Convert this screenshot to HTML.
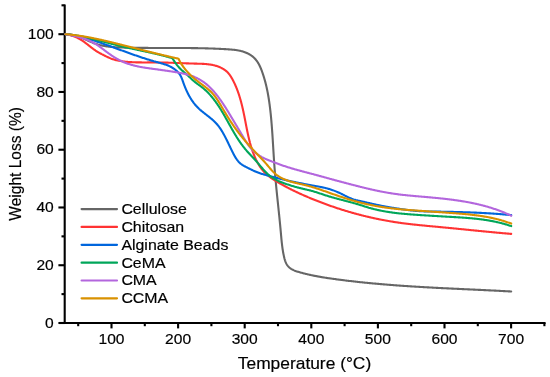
<!DOCTYPE html>
<html><head><meta charset="utf-8"><style>
html,body{margin:0;padding:0;background:#fff;}
body{width:550px;height:377px;overflow:hidden;}
svg{display:block;}
text{font-family:"Liberation Sans",Arial,sans-serif;fill:#000;stroke:#000;stroke-width:0.18;}
</style></head><body>
<svg width="550" height="377" viewBox="0 0 550 377">
<rect width="550" height="377" fill="#fff"/>
<g stroke="#000" stroke-width="2.1">
<line x1="64.70" y1="4.4" x2="64.70" y2="324.05"/>
<line x1="63.65" y1="323.00" x2="545.6" y2="323.00"/>
<line x1="58.40" y1="323.00" x2="64.70" y2="323.00"/>
<line x1="61.50" y1="294.12" x2="64.70" y2="294.12"/>
<line x1="58.40" y1="265.24" x2="64.70" y2="265.24"/>
<line x1="61.50" y1="236.36" x2="64.70" y2="236.36"/>
<line x1="58.40" y1="207.48" x2="64.70" y2="207.48"/>
<line x1="61.50" y1="178.60" x2="64.70" y2="178.60"/>
<line x1="58.40" y1="149.72" x2="64.70" y2="149.72"/>
<line x1="61.50" y1="120.84" x2="64.70" y2="120.84"/>
<line x1="58.40" y1="91.96" x2="64.70" y2="91.96"/>
<line x1="61.50" y1="63.08" x2="64.70" y2="63.08"/>
<line x1="58.40" y1="34.20" x2="64.70" y2="34.20"/>
<line x1="61.50" y1="5.32" x2="64.70" y2="5.32"/>
<line x1="78.20" y1="323.00" x2="78.20" y2="326.20"/>
<line x1="111.50" y1="323.00" x2="111.50" y2="328.40"/>
<line x1="144.80" y1="323.00" x2="144.80" y2="326.20"/>
<line x1="178.10" y1="323.00" x2="178.10" y2="328.40"/>
<line x1="211.40" y1="323.00" x2="211.40" y2="326.20"/>
<line x1="244.70" y1="323.00" x2="244.70" y2="328.40"/>
<line x1="278.00" y1="323.00" x2="278.00" y2="326.20"/>
<line x1="311.30" y1="323.00" x2="311.30" y2="328.40"/>
<line x1="344.60" y1="323.00" x2="344.60" y2="326.20"/>
<line x1="377.90" y1="323.00" x2="377.90" y2="328.40"/>
<line x1="411.20" y1="323.00" x2="411.20" y2="326.20"/>
<line x1="444.50" y1="323.00" x2="444.50" y2="328.40"/>
<line x1="477.80" y1="323.00" x2="477.80" y2="326.20"/>
<line x1="511.10" y1="323.00" x2="511.10" y2="328.40"/>
<line x1="544.40" y1="323.00" x2="544.40" y2="326.20"/>
</g>
<g fill="none" stroke-width="2.1" stroke-linejoin="round" stroke-linecap="round">
<path d="M65.40 34.20 L66.12 34.19 L66.83 34.19 L67.54 34.21 L68.24 34.25 L68.94 34.31 L69.64 34.38 L70.33 34.47 L71.02 34.58 L71.70 34.70 L72.39 34.83 L73.06 34.98 L73.74 35.14 L74.41 35.31 L75.08 35.49 L75.74 35.68 L76.41 35.89 L77.07 36.10 L77.73 36.33 L78.38 36.56 L79.04 36.80 L79.69 37.05 L80.34 37.31 L80.99 37.57 L81.64 37.83 L82.29 38.11 L82.93 38.38 L83.58 38.66 L84.22 38.95 L84.87 39.24 L85.51 39.52 L86.16 39.81 L86.80 40.11 L87.44 40.40 L88.09 40.69 L88.73 40.97 L89.38 41.26 L90.02 41.54 L90.67 41.82 L91.32 42.10 L91.96 42.37 L92.61 42.64 L93.27 42.90 L93.92 43.15 L94.57 43.40 L95.23 43.63 L95.89 43.86 L96.55 44.08 L97.21 44.29 L97.88 44.49 L98.55 44.68 L99.22 44.86 L99.89 45.04 L100.56 45.20 L101.24 45.36 L101.91 45.51 L102.59 45.66 L103.27 45.79 L103.95 45.92 L104.64 46.04 L105.32 46.16 L106.01 46.27 L106.69 46.37 L107.38 46.47 L108.07 46.56 L108.76 46.65 L109.46 46.73 L110.15 46.80 L110.84 46.87 L111.54 46.94 L112.24 47.00 L112.93 47.06 L113.63 47.11 L114.33 47.16 L115.03 47.21 L115.73 47.25 L116.43 47.29 L117.13 47.32 L117.83 47.36 L118.53 47.39 L119.23 47.42 L119.94 47.45 L120.64 47.47 L121.34 47.49 L122.04 47.52 L122.75 47.54 L123.45 47.56 L124.15 47.58 L124.85 47.60 L125.55 47.61 L126.26 47.63 L126.96 47.65 L127.66 47.66 L128.36 47.68 L129.06 47.69 L129.76 47.71 L130.47 47.72 L131.17 47.74 L131.87 47.75 L132.57 47.76 L133.27 47.77 L133.97 47.78 L134.67 47.79 L135.37 47.80 L136.07 47.81 L136.77 47.82 L137.47 47.83 L138.17 47.84 L138.87 47.85 L139.57 47.86 L140.27 47.86 L140.97 47.87 L141.67 47.88 L142.37 47.88 L143.07 47.89 L143.77 47.90 L144.47 47.90 L145.17 47.91 L145.87 47.91 L146.57 47.92 L147.27 47.92 L147.97 47.92 L148.66 47.93 L149.36 47.93 L150.06 47.93 L150.76 47.94 L151.46 47.94 L152.16 47.94 L152.86 47.94 L153.55 47.95 L154.25 47.95 L154.95 47.95 L155.65 47.95 L156.35 47.95 L157.05 47.95 L157.74 47.95 L158.44 47.96 L159.14 47.96 L159.84 47.96 L160.54 47.96 L161.24 47.96 L161.93 47.96 L162.63 47.96 L163.33 47.96 L164.03 47.96 L164.73 47.96 L165.42 47.96 L166.12 47.96 L166.82 47.96 L167.52 47.96 L168.21 47.96 L168.91 47.96 L169.61 47.97 L170.31 47.97 L171.01 47.97 L171.70 47.97 L172.40 47.97 L173.10 47.97 L173.80 47.97 L174.49 47.97 L175.19 47.97 L175.89 47.98 L176.59 47.98 L177.29 47.98 L177.98 47.98 L178.68 47.98 L179.38 47.99 L180.08 47.99 L180.78 47.99 L181.47 48.00 L182.17 48.00 L182.87 48.00 L183.57 48.01 L184.27 48.01 L184.96 48.02 L185.66 48.02 L186.36 48.03 L187.06 48.03 L187.76 48.04 L188.46 48.05 L189.15 48.05 L189.85 48.06 L190.55 48.07 L191.25 48.08 L191.95 48.08 L192.65 48.09 L193.35 48.10 L194.04 48.11 L194.74 48.12 L195.44 48.13 L196.14 48.14 L196.84 48.15 L197.54 48.17 L198.24 48.18 L198.94 48.19 L199.64 48.20 L200.34 48.22 L201.04 48.23 L201.73 48.25 L202.43 48.26 L203.13 48.28 L203.83 48.30 L204.53 48.31 L205.23 48.33 L205.93 48.35 L206.63 48.37 L207.33 48.39 L208.03 48.41 L208.74 48.43 L209.44 48.45 L210.14 48.48 L210.84 48.50 L211.54 48.52 L212.24 48.55 L212.94 48.57 L213.64 48.60 L214.34 48.63 L215.04 48.65 L215.75 48.68 L216.45 48.71 L217.15 48.74 L217.85 48.77 L218.55 48.80 L219.26 48.84 L219.96 48.87 L220.66 48.90 L221.36 48.94 L222.07 48.97 L222.77 49.01 L223.47 49.05 L224.18 49.09 L224.88 49.13 L225.58 49.17 L226.29 49.21 L226.99 49.25 L227.69 49.29 L228.40 49.34 L229.10 49.39 L229.80 49.43 L230.51 49.49 L231.21 49.54 L231.91 49.60 L232.61 49.67 L233.31 49.74 L234.00 49.81 L234.70 49.89 L235.39 49.98 L236.09 50.08 L236.78 50.18 L237.46 50.29 L238.15 50.41 L238.83 50.54 L239.51 50.68 L240.19 50.82 L240.86 50.98 L241.53 51.15 L242.20 51.33 L242.86 51.53 L243.52 51.73 L244.17 51.95 L244.82 52.19 L245.47 52.43 L246.11 52.70 L246.75 52.97 L247.38 53.27 L248.01 53.57 L248.63 53.90 L249.24 54.24 L249.84 54.59 L250.44 54.97 L251.02 55.35 L251.60 55.75 L252.16 56.17 L252.71 56.60 L253.24 57.05 L253.76 57.51 L254.27 57.99 L254.75 58.48 L255.22 58.99 L255.68 59.50 L256.11 60.04 L256.54 60.58 L256.94 61.14 L257.34 61.70 L257.71 62.28 L258.08 62.87 L258.43 63.46 L258.78 64.07 L259.11 64.68 L259.43 65.30 L259.73 65.93 L260.03 66.57 L260.32 67.21 L260.60 67.86 L260.88 68.51 L261.14 69.16 L261.40 69.82 L261.65 70.48 L261.90 71.15 L262.14 71.81 L262.38 72.48 L262.61 73.15 L262.84 73.82 L263.06 74.49 L263.28 75.16 L263.49 75.83 L263.71 76.50 L263.91 77.17 L264.12 77.85 L264.32 78.52 L264.51 79.19 L264.70 79.87 L264.89 80.54 L265.08 81.22 L265.26 81.89 L265.44 82.57 L265.61 83.25 L265.78 83.93 L265.95 84.60 L266.11 85.28 L266.28 85.96 L266.43 86.64 L266.59 87.32 L266.74 88.00 L266.89 88.68 L267.03 89.37 L267.18 90.05 L267.32 90.73 L267.45 91.42 L267.59 92.10 L267.72 92.78 L267.85 93.47 L267.97 94.15 L268.10 94.84 L268.22 95.53 L268.34 96.21 L268.45 96.90 L268.57 97.59 L268.68 98.27 L268.79 98.96 L268.90 99.65 L269.00 100.34 L269.10 101.03 L269.21 101.72 L269.30 102.41 L269.40 103.10 L269.50 103.79 L269.59 104.48 L269.68 105.17 L269.77 105.87 L269.86 106.56 L269.94 107.25 L270.03 107.94 L270.11 108.64 L270.19 109.33 L270.27 110.02 L270.35 110.72 L270.43 111.41 L270.51 112.11 L270.58 112.80 L270.66 113.50 L270.73 114.19 L270.80 114.89 L270.87 115.58 L270.94 116.28 L271.01 116.98 L271.07 117.67 L271.14 118.37 L271.20 119.07 L271.26 119.76 L271.33 120.46 L271.39 121.16 L271.45 121.86 L271.51 122.56 L271.57 123.25 L271.62 123.95 L271.68 124.65 L271.74 125.35 L271.79 126.05 L271.84 126.75 L271.90 127.45 L271.95 128.15 L272.00 128.85 L272.05 129.54 L272.10 130.24 L272.15 130.94 L272.20 131.64 L272.25 132.34 L272.30 133.04 L272.35 133.74 L272.40 134.44 L272.44 135.14 L272.49 135.85 L272.53 136.55 L272.58 137.25 L272.62 137.95 L272.67 138.65 L272.71 139.35 L272.76 140.05 L272.80 140.75 L272.84 141.45 L272.89 142.15 L272.93 142.85 L272.97 143.55 L273.02 144.25 L273.06 144.95 L273.10 145.65 L273.14 146.35 L273.19 147.05 L273.23 147.75 L273.27 148.45 L273.31 149.15 L273.36 149.85 L273.40 150.55 L273.44 151.25 L273.49 151.95 L273.53 152.65 L273.57 153.35 L273.61 154.05 L273.66 154.75 L273.70 155.45 L273.75 156.15 L273.79 156.85 L273.84 157.55 L273.88 158.25 L273.93 158.95 L273.97 159.64 L274.02 160.34 L274.07 161.04 L274.11 161.74 L274.16 162.44 L274.21 163.13 L274.26 163.83 L274.31 164.53 L274.36 165.23 L274.41 165.92 L274.46 166.62 L274.51 167.31 L274.57 168.01 L274.62 168.71 L274.68 169.40 L274.73 170.10 L274.79 170.79 L274.84 171.49 L274.90 172.18 L274.96 172.88 L275.02 173.57 L275.08 174.26 L275.14 174.96 L275.20 175.65 L275.26 176.35 L275.32 177.04 L275.38 177.73 L275.44 178.43 L275.51 179.12 L275.57 179.81 L275.63 180.51 L275.70 181.20 L275.76 181.89 L275.83 182.58 L275.89 183.28 L275.96 183.97 L276.02 184.66 L276.09 185.35 L276.16 186.05 L276.23 186.74 L276.29 187.43 L276.36 188.12 L276.43 188.81 L276.50 189.51 L276.57 190.20 L276.64 190.89 L276.71 191.58 L276.78 192.28 L276.85 192.97 L276.92 193.66 L276.99 194.35 L277.06 195.04 L277.13 195.74 L277.20 196.43 L277.28 197.12 L277.35 197.81 L277.42 198.51 L277.49 199.20 L277.56 199.89 L277.64 200.58 L277.71 201.28 L277.78 201.97 L277.85 202.66 L277.93 203.36 L278.00 204.05 L278.07 204.74 L278.14 205.44 L278.22 206.13 L278.29 206.82 L278.36 207.52 L278.43 208.21 L278.51 208.91 L278.58 209.60 L278.65 210.30 L278.72 210.99 L278.80 211.69 L278.87 212.38 L278.94 213.08 L279.01 213.77 L279.08 214.47 L279.16 215.17 L279.23 215.86 L279.30 216.56 L279.37 217.26 L279.44 217.96 L279.51 218.65 L279.58 219.35 L279.65 220.05 L279.72 220.75 L279.79 221.45 L279.86 222.15 L279.93 222.85 L280.00 223.55 L280.06 224.25 L280.13 224.95 L280.20 225.65 L280.27 226.35 L280.33 227.05 L280.40 227.75 L280.47 228.46 L280.53 229.16 L280.60 229.86 L280.66 230.57 L280.72 231.27 L280.79 231.97 L280.85 232.68 L280.91 233.38 L280.98 234.09 L281.04 234.79 L281.10 235.50 L281.17 236.21 L281.23 236.91 L281.29 237.62 L281.36 238.32 L281.43 239.03 L281.49 239.73 L281.56 240.44 L281.63 241.14 L281.71 241.84 L281.78 242.54 L281.86 243.25 L281.94 243.95 L282.02 244.65 L282.10 245.34 L282.19 246.04 L282.28 246.74 L282.37 247.43 L282.47 248.13 L282.57 248.82 L282.67 249.51 L282.78 250.20 L282.89 250.89 L283.00 251.57 L283.12 252.26 L283.25 252.94 L283.37 253.62 L283.51 254.30 L283.65 254.97 L283.79 255.64 L283.94 256.32 L284.09 256.98 L284.25 257.65 L284.42 258.31 L284.59 258.97 L284.78 259.63 L284.97 260.28 L285.19 260.92 L285.41 261.55 L285.66 262.17 L285.92 262.78 L286.21 263.38 L286.52 263.96 L286.85 264.53 L287.22 265.08 L287.61 265.62 L288.03 266.14 L288.48 266.64 L288.96 267.11 L289.46 267.57 L289.99 268.00 L290.53 268.41 L291.10 268.79 L291.69 269.15 L292.30 269.50 L292.92 269.82 L293.55 270.12 L294.20 270.41 L294.86 270.68 L295.53 270.93 L296.21 271.18 L296.90 271.41 L297.59 271.64 L298.29 271.85 L298.99 272.06 L299.68 272.26 L300.38 272.46 L301.08 272.66 L301.78 272.85 L302.47 273.04 L303.17 273.22 L303.86 273.40 L304.56 273.58 L305.25 273.76 L305.94 273.93 L306.63 274.10 L307.32 274.26 L308.01 274.42 L308.70 274.58 L309.39 274.74 L310.08 274.89 L310.76 275.04 L311.45 275.19 L312.14 275.33 L312.82 275.47 L313.51 275.61 L314.20 275.75 L314.88 275.89 L315.57 276.02 L316.25 276.15 L316.93 276.28 L317.62 276.40 L318.30 276.53 L318.99 276.65 L319.67 276.77 L320.35 276.89 L321.04 277.00 L321.72 277.12 L322.40 277.23 L323.09 277.34 L323.77 277.45 L324.45 277.56 L325.14 277.67 L325.82 277.77 L326.50 277.88 L327.19 277.98 L327.87 278.09 L328.56 278.19 L329.24 278.29 L329.93 278.39 L330.61 278.49 L331.30 278.58 L331.99 278.68 L332.67 278.78 L333.36 278.87 L334.05 278.97 L334.74 279.07 L335.42 279.16 L336.11 279.25 L336.80 279.35 L337.49 279.44 L338.18 279.53 L338.87 279.62 L339.56 279.71 L340.25 279.80 L340.95 279.89 L341.64 279.98 L342.33 280.07 L343.02 280.16 L343.71 280.24 L344.41 280.33 L345.10 280.42 L345.79 280.50 L346.49 280.59 L347.18 280.67 L347.88 280.75 L348.57 280.84 L349.27 280.92 L349.96 281.00 L350.66 281.08 L351.35 281.16 L352.05 281.24 L352.74 281.32 L353.44 281.40 L354.14 281.48 L354.83 281.56 L355.53 281.64 L356.23 281.72 L356.93 281.79 L357.62 281.87 L358.32 281.94 L359.02 282.02 L359.72 282.09 L360.41 282.17 L361.11 282.24 L361.81 282.31 L362.51 282.39 L363.21 282.46 L363.90 282.53 L364.60 282.60 L365.30 282.67 L366.00 282.74 L366.70 282.81 L367.40 282.88 L368.10 282.95 L368.80 283.02 L369.49 283.09 L370.19 283.15 L370.89 283.22 L371.59 283.29 L372.29 283.35 L372.99 283.42 L373.69 283.48 L374.39 283.55 L375.09 283.61 L375.79 283.67 L376.48 283.74 L377.18 283.80 L377.88 283.86 L378.58 283.92 L379.28 283.98 L379.98 284.05 L380.68 284.11 L381.37 284.17 L382.07 284.23 L382.77 284.28 L383.47 284.34 L384.17 284.40 L384.86 284.46 L385.56 284.52 L386.26 284.57 L386.96 284.63 L387.65 284.69 L388.35 284.74 L389.05 284.80 L389.75 284.85 L390.44 284.91 L391.14 284.96 L391.84 285.02 L392.54 285.07 L393.23 285.13 L393.93 285.18 L394.63 285.23 L395.32 285.28 L396.02 285.34 L396.72 285.39 L397.41 285.44 L398.11 285.49 L398.81 285.54 L399.50 285.59 L400.20 285.64 L400.90 285.69 L401.59 285.74 L402.29 285.79 L402.99 285.83 L403.68 285.88 L404.38 285.93 L405.08 285.98 L405.77 286.03 L406.47 286.07 L407.17 286.12 L407.86 286.17 L408.56 286.21 L409.25 286.26 L409.95 286.30 L410.65 286.35 L411.34 286.39 L412.04 286.44 L412.74 286.48 L413.43 286.52 L414.13 286.57 L414.83 286.61 L415.52 286.65 L416.22 286.70 L416.92 286.74 L417.61 286.78 L418.31 286.82 L419.01 286.86 L419.70 286.91 L420.40 286.95 L421.10 286.99 L421.79 287.03 L422.49 287.07 L423.19 287.11 L423.89 287.15 L424.58 287.19 L425.28 287.23 L425.98 287.27 L426.67 287.31 L427.37 287.35 L428.07 287.38 L428.77 287.42 L429.46 287.46 L430.16 287.50 L430.86 287.54 L431.56 287.57 L432.26 287.61 L432.95 287.65 L433.65 287.68 L434.35 287.72 L435.05 287.76 L435.75 287.79 L436.44 287.83 L437.14 287.87 L437.84 287.90 L438.54 287.94 L439.24 287.97 L439.94 288.01 L440.63 288.04 L441.33 288.08 L442.03 288.11 L442.73 288.15 L443.43 288.18 L444.13 288.22 L444.83 288.25 L445.52 288.29 L446.22 288.32 L446.92 288.35 L447.62 288.39 L448.32 288.42 L449.02 288.46 L449.72 288.49 L450.42 288.52 L451.11 288.56 L451.81 288.59 L452.51 288.62 L453.21 288.66 L453.91 288.69 L454.61 288.72 L455.31 288.75 L456.01 288.79 L456.71 288.82 L457.41 288.85 L458.10 288.89 L458.80 288.92 L459.50 288.95 L460.20 288.98 L460.90 289.02 L461.60 289.05 L462.30 289.08 L463.00 289.11 L463.70 289.15 L464.40 289.18 L465.10 289.21 L465.79 289.24 L466.49 289.27 L467.19 289.31 L467.89 289.34 L468.59 289.37 L469.29 289.40 L469.99 289.44 L470.69 289.47 L471.39 289.50 L472.09 289.53 L472.79 289.57 L473.49 289.60 L474.19 289.63 L474.88 289.66 L475.58 289.70 L476.28 289.73 L476.98 289.76 L477.68 289.79 L478.38 289.83 L479.08 289.86 L479.78 289.89 L480.48 289.92 L481.18 289.96 L481.87 289.99 L482.57 290.02 L483.27 290.06 L483.97 290.09 L484.67 290.12 L485.37 290.16 L486.07 290.19 L486.77 290.22 L487.47 290.26 L488.16 290.29 L488.86 290.33 L489.56 290.36 L490.26 290.40 L490.96 290.43 L491.66 290.46 L492.36 290.50 L493.05 290.53 L493.75 290.57 L494.45 290.60 L495.15 290.64 L495.85 290.67 L496.55 290.71 L497.25 290.75 L497.94 290.78 L498.64 290.82 L499.34 290.85 L500.04 290.89 L500.74 290.93 L501.43 290.96 L502.13 291.00 L502.83 291.04 L503.53 291.08 L504.23 291.11 L504.92 291.15 L505.62 291.19 L506.32 291.23 L507.02 291.26 L507.71 291.30 L508.41 291.34 L509.11 291.38 L509.81 291.42 L510.50 291.46 L511.20 291.50" stroke="#666666"/>
<path d="M65.40 34.20 L66.15 34.32 L66.88 34.45 L67.61 34.59 L68.33 34.75 L69.03 34.91 L69.73 35.08 L70.42 35.26 L71.10 35.45 L71.77 35.65 L72.44 35.87 L73.09 36.09 L73.74 36.32 L74.38 36.56 L75.02 36.81 L75.64 37.07 L76.26 37.35 L76.88 37.63 L77.49 37.92 L78.09 38.22 L78.69 38.53 L79.28 38.85 L79.87 39.18 L80.45 39.52 L81.03 39.87 L81.61 40.23 L82.18 40.60 L82.75 40.98 L83.32 41.37 L83.88 41.76 L84.45 42.17 L85.01 42.58 L85.56 42.99 L86.12 43.42 L86.68 43.84 L87.23 44.27 L87.79 44.70 L88.34 45.14 L88.89 45.57 L89.45 46.01 L90.00 46.44 L90.56 46.88 L91.12 47.31 L91.67 47.74 L92.24 48.17 L92.80 48.59 L93.36 49.01 L93.93 49.43 L94.50 49.83 L95.07 50.23 L95.65 50.63 L96.23 51.01 L96.82 51.38 L97.41 51.75 L98.00 52.10 L98.60 52.45 L99.20 52.79 L99.81 53.13 L100.42 53.46 L101.03 53.78 L101.65 54.11 L102.27 54.42 L102.89 54.74 L103.52 55.06 L104.15 55.38 L104.79 55.70 L105.42 56.02 L106.06 56.33 L106.71 56.65 L107.35 56.96 L108.00 57.26 L108.65 57.56 L109.31 57.85 L109.96 58.13 L110.62 58.40 L111.28 58.66 L111.94 58.90 L112.61 59.14 L113.28 59.35 L113.95 59.56 L114.62 59.76 L115.29 59.94 L115.96 60.11 L116.64 60.27 L117.31 60.43 L117.99 60.57 L118.67 60.71 L119.35 60.83 L120.03 60.95 L120.71 61.06 L121.40 61.17 L122.08 61.27 L122.77 61.36 L123.45 61.45 L124.14 61.53 L124.82 61.61 L125.51 61.68 L126.19 61.75 L126.88 61.82 L127.57 61.88 L128.26 61.94 L128.94 61.99 L129.63 62.04 L130.32 62.08 L131.01 62.13 L131.70 62.17 L132.39 62.20 L133.08 62.23 L133.77 62.26 L134.47 62.29 L135.16 62.31 L135.85 62.33 L136.54 62.35 L137.24 62.37 L137.93 62.38 L138.62 62.39 L139.32 62.40 L140.01 62.41 L140.71 62.42 L141.40 62.42 L142.10 62.43 L142.79 62.43 L143.49 62.43 L144.18 62.43 L144.88 62.43 L145.58 62.43 L146.27 62.43 L146.97 62.43 L147.67 62.42 L148.37 62.42 L149.07 62.42 L149.76 62.42 L150.46 62.41 L151.16 62.41 L151.86 62.41 L152.56 62.41 L153.26 62.41 L153.96 62.41 L154.66 62.41 L155.36 62.41 L156.06 62.42 L156.76 62.42 L157.47 62.43 L158.17 62.44 L158.87 62.45 L159.57 62.46 L160.27 62.47 L160.97 62.48 L161.68 62.49 L162.38 62.51 L163.08 62.52 L163.78 62.54 L164.49 62.56 L165.19 62.58 L165.89 62.60 L166.60 62.62 L167.30 62.64 L168.00 62.66 L168.71 62.68 L169.41 62.70 L170.12 62.73 L170.82 62.75 L171.52 62.77 L172.23 62.80 L172.93 62.82 L173.64 62.85 L174.34 62.88 L175.05 62.90 L175.75 62.93 L176.45 62.96 L177.16 62.98 L177.86 63.01 L178.57 63.04 L179.27 63.06 L179.98 63.09 L180.68 63.12 L181.39 63.15 L182.09 63.17 L182.80 63.20 L183.50 63.23 L184.21 63.25 L184.91 63.28 L185.62 63.31 L186.32 63.33 L187.03 63.36 L187.73 63.38 L188.44 63.41 L189.14 63.43 L189.85 63.46 L190.55 63.48 L191.26 63.50 L191.96 63.52 L192.67 63.55 L193.37 63.57 L194.08 63.59 L194.78 63.60 L195.49 63.62 L196.19 63.64 L196.89 63.66 L197.60 63.68 L198.30 63.69 L199.00 63.71 L199.71 63.73 L200.41 63.76 L201.11 63.78 L201.81 63.81 L202.51 63.84 L203.20 63.88 L203.90 63.92 L204.60 63.96 L205.29 64.01 L205.98 64.07 L206.67 64.13 L207.36 64.20 L208.05 64.27 L208.74 64.36 L209.42 64.44 L210.10 64.54 L210.78 64.65 L211.46 64.77 L212.14 64.89 L212.81 65.03 L213.48 65.17 L214.15 65.33 L214.82 65.50 L215.48 65.68 L216.14 65.87 L216.80 66.07 L217.45 66.29 L218.11 66.52 L218.75 66.77 L219.40 67.02 L220.04 67.30 L220.68 67.59 L221.31 67.89 L221.93 68.21 L222.54 68.55 L223.15 68.90 L223.74 69.26 L224.32 69.65 L224.89 70.04 L225.45 70.46 L225.99 70.89 L226.52 71.34 L227.02 71.81 L227.52 72.30 L227.99 72.80 L228.45 73.31 L228.89 73.85 L229.32 74.39 L229.73 74.95 L230.13 75.52 L230.52 76.10 L230.90 76.69 L231.27 77.29 L231.63 77.89 L231.98 78.50 L232.32 79.11 L232.66 79.73 L233.00 80.35 L233.32 80.98 L233.64 81.61 L233.96 82.24 L234.27 82.88 L234.57 83.52 L234.87 84.16 L235.16 84.80 L235.45 85.45 L235.73 86.10 L236.00 86.75 L236.28 87.40 L236.54 88.06 L236.80 88.72 L237.06 89.38 L237.31 90.04 L237.56 90.70 L237.80 91.37 L238.03 92.03 L238.27 92.70 L238.50 93.36 L238.72 94.03 L238.94 94.70 L239.16 95.37 L239.37 96.04 L239.58 96.70 L239.78 97.37 L239.98 98.04 L240.18 98.72 L240.37 99.39 L240.56 100.06 L240.75 100.73 L240.94 101.40 L241.12 102.08 L241.29 102.75 L241.47 103.42 L241.64 104.10 L241.81 104.77 L241.98 105.45 L242.14 106.13 L242.30 106.80 L242.46 107.48 L242.62 108.16 L242.78 108.84 L242.93 109.51 L243.08 110.19 L243.23 110.87 L243.38 111.55 L243.52 112.23 L243.67 112.91 L243.81 113.60 L243.95 114.28 L244.09 114.96 L244.23 115.64 L244.37 116.33 L244.50 117.01 L244.64 117.69 L244.77 118.38 L244.91 119.06 L245.04 119.75 L245.18 120.43 L245.31 121.12 L245.44 121.81 L245.57 122.49 L245.71 123.18 L245.84 123.87 L245.97 124.55 L246.10 125.24 L246.24 125.93 L246.37 126.61 L246.51 127.30 L246.64 127.99 L246.78 128.67 L246.91 129.36 L247.05 130.04 L247.19 130.73 L247.33 131.42 L247.48 132.10 L247.62 132.79 L247.77 133.47 L247.91 134.16 L248.06 134.84 L248.21 135.52 L248.37 136.21 L248.52 136.89 L248.68 137.57 L248.84 138.25 L249.01 138.93 L249.17 139.61 L249.34 140.29 L249.51 140.97 L249.69 141.64 L249.86 142.32 L250.05 142.99 L250.23 143.67 L250.42 144.34 L250.61 145.02 L250.80 145.69 L251.00 146.36 L251.21 147.03 L251.41 147.69 L251.63 148.36 L251.84 149.03 L252.06 149.69 L252.29 150.35 L252.51 151.02 L252.75 151.68 L252.99 152.33 L253.23 152.99 L253.48 153.65 L253.73 154.30 L253.99 154.96 L254.26 155.61 L254.53 156.26 L254.80 156.90 L255.08 157.55 L255.37 158.19 L255.67 158.83 L255.96 159.47 L256.27 160.11 L256.58 160.74 L256.90 161.36 L257.23 161.99 L257.56 162.61 L257.90 163.22 L258.25 163.83 L258.60 164.43 L258.96 165.03 L259.33 165.63 L259.71 166.22 L260.09 166.80 L260.49 167.37 L260.89 167.94 L261.29 168.50 L261.71 169.06 L262.14 169.60 L262.57 170.14 L263.01 170.67 L263.47 171.19 L263.93 171.71 L264.40 172.21 L264.87 172.71 L265.36 173.19 L265.86 173.67 L266.36 174.14 L266.88 174.60 L267.40 175.06 L267.93 175.50 L268.46 175.94 L269.01 176.37 L269.55 176.79 L270.11 177.21 L270.67 177.62 L271.24 178.03 L271.81 178.43 L272.39 178.82 L272.97 179.21 L273.55 179.59 L274.14 179.97 L274.73 180.35 L275.33 180.72 L275.93 181.09 L276.53 181.45 L277.14 181.81 L277.74 182.17 L278.35 182.52 L278.96 182.87 L279.57 183.23 L280.18 183.57 L280.79 183.92 L281.40 184.26 L282.01 184.61 L282.63 184.95 L283.24 185.28 L283.86 185.62 L284.48 185.95 L285.09 186.29 L285.71 186.62 L286.33 186.95 L286.95 187.27 L287.57 187.60 L288.19 187.92 L288.82 188.24 L289.44 188.56 L290.06 188.88 L290.69 189.19 L291.31 189.51 L291.94 189.82 L292.57 190.13 L293.20 190.44 L293.83 190.75 L294.45 191.05 L295.09 191.36 L295.72 191.66 L296.35 191.96 L296.98 192.26 L297.61 192.55 L298.25 192.85 L298.88 193.14 L299.52 193.44 L300.15 193.73 L300.79 194.02 L301.43 194.30 L302.06 194.59 L302.70 194.87 L303.34 195.16 L303.98 195.44 L304.62 195.72 L305.26 196.00 L305.90 196.28 L306.55 196.55 L307.19 196.83 L307.83 197.10 L308.48 197.38 L309.12 197.65 L309.77 197.92 L310.41 198.18 L311.06 198.45 L311.70 198.72 L312.35 198.98 L313.00 199.25 L313.65 199.51 L314.29 199.77 L314.94 200.03 L315.59 200.29 L316.24 200.55 L316.89 200.80 L317.54 201.06 L318.20 201.31 L318.85 201.57 L319.50 201.82 L320.15 202.07 L320.81 202.32 L321.46 202.57 L322.11 202.81 L322.77 203.06 L323.42 203.31 L324.08 203.55 L324.74 203.79 L325.39 204.03 L326.05 204.27 L326.71 204.51 L327.37 204.75 L328.02 204.99 L328.68 205.22 L329.34 205.45 L330.00 205.69 L330.66 205.92 L331.32 206.15 L331.98 206.38 L332.64 206.61 L333.31 206.83 L333.97 207.06 L334.63 207.28 L335.29 207.51 L335.96 207.73 L336.62 207.95 L337.28 208.17 L337.95 208.39 L338.61 208.60 L339.28 208.82 L339.95 209.03 L340.61 209.25 L341.28 209.46 L341.95 209.67 L342.61 209.88 L343.28 210.09 L343.95 210.29 L344.62 210.50 L345.29 210.70 L345.96 210.91 L346.62 211.11 L347.29 211.31 L347.97 211.51 L348.64 211.71 L349.31 211.90 L349.98 212.10 L350.65 212.29 L351.32 212.48 L352.00 212.68 L352.67 212.87 L353.34 213.06 L354.01 213.24 L354.69 213.43 L355.36 213.62 L356.04 213.80 L356.71 213.98 L357.39 214.16 L358.06 214.34 L358.74 214.52 L359.42 214.70 L360.09 214.88 L360.77 215.05 L361.45 215.22 L362.12 215.40 L362.80 215.57 L363.48 215.74 L364.16 215.91 L364.84 216.07 L365.52 216.24 L366.20 216.40 L366.88 216.57 L367.56 216.73 L368.24 216.89 L368.92 217.05 L369.60 217.21 L370.28 217.36 L370.96 217.52 L371.64 217.67 L372.33 217.82 L373.01 217.97 L373.69 218.12 L374.37 218.27 L375.06 218.42 L375.74 218.56 L376.42 218.71 L377.11 218.85 L377.79 218.99 L378.48 219.13 L379.16 219.27 L379.85 219.41 L380.53 219.55 L381.22 219.68 L381.90 219.82 L382.59 219.95 L383.27 220.08 L383.96 220.21 L384.65 220.34 L385.34 220.46 L386.02 220.59 L386.71 220.71 L387.40 220.83 L388.09 220.95 L388.77 221.07 L389.46 221.19 L390.15 221.31 L390.84 221.43 L391.53 221.54 L392.22 221.65 L392.91 221.76 L393.60 221.87 L394.29 221.98 L394.98 222.09 L395.67 222.20 L396.36 222.30 L397.05 222.40 L397.74 222.50 L398.43 222.60 L399.12 222.70 L399.81 222.80 L400.50 222.90 L401.20 222.99 L401.89 223.09 L402.58 223.18 L403.27 223.27 L403.97 223.36 L404.66 223.45 L405.35 223.54 L406.04 223.62 L406.74 223.71 L407.43 223.79 L408.12 223.88 L408.82 223.96 L409.51 224.04 L410.21 224.12 L410.90 224.20 L411.59 224.28 L412.29 224.36 L412.98 224.44 L413.68 224.51 L414.37 224.59 L415.07 224.66 L415.76 224.74 L416.46 224.81 L417.15 224.88 L417.85 224.96 L418.54 225.03 L419.24 225.10 L419.94 225.17 L420.63 225.24 L421.33 225.31 L422.02 225.38 L422.72 225.45 L423.42 225.51 L424.11 225.58 L424.81 225.65 L425.51 225.72 L426.20 225.78 L426.90 225.85 L427.60 225.92 L428.29 225.98 L428.99 226.05 L429.69 226.11 L430.39 226.18 L431.08 226.24 L431.78 226.31 L432.48 226.37 L433.18 226.44 L433.87 226.50 L434.57 226.57 L435.27 226.63 L435.97 226.70 L436.67 226.76 L437.36 226.83 L438.06 226.89 L438.76 226.96 L439.46 227.02 L440.16 227.09 L440.85 227.15 L441.55 227.22 L442.25 227.28 L442.95 227.35 L443.65 227.42 L444.35 227.48 L445.05 227.55 L445.74 227.62 L446.44 227.69 L447.14 227.75 L447.84 227.82 L448.54 227.89 L449.24 227.96 L449.94 228.02 L450.63 228.09 L451.33 228.16 L452.03 228.23 L452.73 228.30 L453.43 228.37 L454.13 228.43 L454.83 228.50 L455.53 228.57 L456.22 228.64 L456.92 228.71 L457.62 228.78 L458.32 228.85 L459.02 228.92 L459.72 228.99 L460.42 229.06 L461.11 229.13 L461.81 229.19 L462.51 229.26 L463.21 229.33 L463.91 229.40 L464.61 229.47 L465.31 229.54 L466.00 229.61 L466.70 229.68 L467.40 229.75 L468.10 229.82 L468.80 229.89 L469.49 229.96 L470.19 230.03 L470.89 230.10 L471.59 230.17 L472.29 230.24 L472.98 230.31 L473.68 230.38 L474.38 230.45 L475.08 230.52 L475.78 230.59 L476.47 230.65 L477.17 230.72 L477.87 230.79 L478.57 230.86 L479.26 230.93 L479.96 231.00 L480.66 231.07 L481.35 231.14 L482.05 231.20 L482.75 231.27 L483.44 231.34 L484.14 231.41 L484.84 231.48 L485.53 231.54 L486.23 231.61 L486.92 231.68 L487.62 231.75 L488.32 231.81 L489.01 231.88 L489.71 231.95 L490.40 232.01 L491.10 232.08 L491.79 232.15 L492.49 232.21 L493.18 232.28 L493.88 232.34 L494.57 232.41 L495.27 232.48 L495.96 232.54 L496.66 232.60 L497.35 232.67 L498.05 232.73 L498.74 232.80 L499.43 232.86 L500.13 232.92 L500.82 232.99 L501.51 233.05 L502.21 233.11 L502.90 233.18 L503.59 233.24 L504.28 233.30 L504.98 233.36 L505.67 233.42 L506.36 233.48 L507.05 233.54 L507.74 233.60 L508.44 233.66 L509.13 233.72 L509.82 233.78 L510.51 233.84 L511.20 233.90" stroke="#ff3333"/>
<path d="M65.40 34.20 L66.11 34.29 L66.82 34.39 L67.53 34.49 L68.23 34.59 L68.94 34.69 L69.64 34.80 L70.34 34.91 L71.04 35.02 L71.74 35.14 L72.43 35.26 L73.13 35.38 L73.82 35.50 L74.51 35.63 L75.20 35.76 L75.89 35.89 L76.58 36.03 L77.27 36.16 L77.95 36.30 L78.63 36.45 L79.32 36.60 L80.00 36.75 L80.68 36.90 L81.35 37.05 L82.03 37.21 L82.71 37.37 L83.38 37.54 L84.06 37.71 L84.73 37.88 L85.40 38.05 L86.07 38.23 L86.74 38.41 L87.41 38.59 L88.08 38.78 L88.75 38.97 L89.41 39.16 L90.08 39.36 L90.74 39.55 L91.40 39.76 L92.07 39.96 L92.73 40.17 L93.39 40.38 L94.05 40.59 L94.71 40.80 L95.37 41.02 L96.03 41.24 L96.69 41.46 L97.35 41.68 L98.00 41.90 L98.66 42.12 L99.32 42.35 L99.97 42.58 L100.63 42.81 L101.29 43.03 L101.94 43.26 L102.60 43.50 L103.25 43.73 L103.90 43.96 L104.56 44.19 L105.21 44.42 L105.86 44.66 L106.52 44.89 L107.17 45.13 L107.82 45.36 L108.48 45.60 L109.13 45.83 L109.78 46.07 L110.44 46.31 L111.09 46.55 L111.74 46.78 L112.40 47.02 L113.05 47.26 L113.70 47.50 L114.36 47.74 L115.01 47.98 L115.67 48.22 L116.32 48.46 L116.98 48.70 L117.63 48.94 L118.29 49.18 L118.94 49.42 L119.60 49.66 L120.26 49.90 L120.91 50.14 L121.57 50.38 L122.23 50.62 L122.89 50.86 L123.55 51.10 L124.21 51.34 L124.87 51.58 L125.53 51.82 L126.19 52.06 L126.86 52.30 L127.52 52.54 L128.19 52.78 L128.85 53.02 L129.52 53.25 L130.18 53.49 L130.85 53.73 L131.52 53.97 L132.19 54.20 L132.86 54.44 L133.53 54.68 L134.20 54.91 L134.88 55.15 L135.55 55.38 L136.22 55.61 L136.90 55.84 L137.57 56.08 L138.25 56.31 L138.93 56.54 L139.60 56.76 L140.28 56.99 L140.95 57.22 L141.63 57.44 L142.31 57.67 L142.98 57.89 L143.66 58.11 L144.34 58.33 L145.01 58.55 L145.69 58.76 L146.36 58.98 L147.04 59.19 L147.71 59.40 L148.39 59.61 L149.06 59.81 L149.73 60.02 L150.41 60.22 L151.08 60.42 L151.75 60.62 L152.42 60.82 L153.08 61.01 L153.75 61.21 L154.42 61.39 L155.08 61.58 L155.75 61.77 L156.41 61.95 L157.07 62.13 L157.73 62.31 L158.39 62.48 L159.04 62.66 L159.70 62.84 L160.35 63.02 L161.00 63.20 L161.65 63.39 L162.30 63.57 L162.94 63.77 L163.59 63.97 L164.23 64.17 L164.87 64.38 L165.51 64.60 L166.14 64.83 L166.77 65.07 L167.40 65.31 L168.03 65.57 L168.66 65.84 L169.28 66.12 L169.90 66.41 L170.52 66.72 L171.13 67.04 L171.74 67.38 L172.35 67.74 L172.96 68.11 L173.56 68.49 L174.15 68.90 L174.73 69.32 L175.31 69.75 L175.87 70.20 L176.42 70.67 L176.95 71.15 L177.47 71.64 L177.96 72.16 L178.44 72.68 L178.89 73.22 L179.32 73.78 L179.72 74.35 L180.10 74.93 L180.45 75.53 L180.78 76.14 L181.09 76.76 L181.37 77.38 L181.65 78.02 L181.91 78.67 L182.16 79.32 L182.40 79.97 L182.63 80.63 L182.87 81.29 L183.10 81.95 L183.33 82.62 L183.57 83.28 L183.81 83.94 L184.06 84.60 L184.31 85.26 L184.57 85.92 L184.82 86.57 L185.09 87.23 L185.36 87.88 L185.63 88.53 L185.91 89.18 L186.19 89.83 L186.48 90.47 L186.77 91.11 L187.07 91.75 L187.37 92.39 L187.68 93.02 L188.00 93.65 L188.32 94.27 L188.65 94.90 L188.98 95.51 L189.32 96.13 L189.66 96.74 L190.01 97.34 L190.37 97.94 L190.73 98.54 L191.10 99.13 L191.48 99.72 L191.86 100.30 L192.25 100.87 L192.65 101.44 L193.05 102.00 L193.47 102.56 L193.88 103.11 L194.31 103.66 L194.74 104.20 L195.19 104.73 L195.64 105.26 L196.09 105.78 L196.56 106.29 L197.03 106.79 L197.51 107.29 L198.00 107.78 L198.50 108.26 L199.00 108.74 L199.52 109.20 L200.03 109.67 L200.56 110.13 L201.09 110.58 L201.62 111.03 L202.16 111.48 L202.70 111.92 L203.24 112.36 L203.79 112.79 L204.34 113.23 L204.90 113.66 L205.45 114.09 L206.00 114.52 L206.56 114.96 L207.11 115.39 L207.67 115.82 L208.22 116.25 L208.77 116.69 L209.32 117.12 L209.87 117.56 L210.42 118.01 L210.96 118.45 L211.49 118.90 L212.03 119.36 L212.55 119.82 L213.08 120.28 L213.59 120.75 L214.10 121.23 L214.61 121.71 L215.10 122.20 L215.59 122.70 L216.07 123.21 L216.54 123.72 L217.01 124.24 L217.46 124.78 L217.90 125.32 L218.34 125.87 L218.77 126.42 L219.18 126.99 L219.60 127.56 L220.00 128.13 L220.40 128.71 L220.79 129.30 L221.17 129.89 L221.54 130.49 L221.91 131.09 L222.28 131.70 L222.64 132.30 L222.99 132.91 L223.34 133.53 L223.68 134.14 L224.02 134.76 L224.35 135.38 L224.68 136.00 L225.00 136.62 L225.33 137.24 L225.64 137.86 L225.96 138.48 L226.27 139.10 L226.58 139.72 L226.89 140.34 L227.20 140.96 L227.50 141.58 L227.80 142.21 L228.10 142.83 L228.40 143.45 L228.70 144.08 L229.00 144.70 L229.30 145.33 L229.60 145.96 L229.90 146.58 L230.20 147.21 L230.50 147.84 L230.80 148.47 L231.11 149.10 L231.41 149.73 L231.72 150.36 L232.03 150.99 L232.34 151.62 L232.66 152.26 L232.98 152.89 L233.30 153.52 L233.63 154.15 L233.96 154.78 L234.30 155.40 L234.64 156.02 L234.99 156.63 L235.35 157.24 L235.72 157.84 L236.10 158.43 L236.49 159.00 L236.89 159.57 L237.31 160.13 L237.73 160.67 L238.17 161.20 L238.62 161.71 L239.08 162.20 L239.56 162.68 L240.06 163.14 L240.57 163.59 L241.10 164.01 L241.65 164.41 L242.21 164.80 L242.78 165.17 L243.37 165.52 L243.96 165.87 L244.57 166.21 L245.18 166.54 L245.80 166.86 L246.43 167.18 L247.06 167.50 L247.69 167.82 L248.33 168.13 L248.96 168.45 L249.60 168.77 L250.24 169.09 L250.88 169.41 L251.52 169.73 L252.16 170.04 L252.80 170.34 L253.45 170.65 L254.09 170.94 L254.74 171.23 L255.39 171.51 L256.04 171.78 L256.69 172.04 L257.34 172.30 L257.99 172.55 L258.64 172.79 L259.30 173.02 L259.96 173.24 L260.61 173.46 L261.27 173.68 L261.93 173.89 L262.59 174.09 L263.25 174.29 L263.91 174.48 L264.57 174.67 L265.24 174.86 L265.90 175.05 L266.57 175.23 L267.23 175.41 L267.90 175.59 L268.57 175.77 L269.23 175.94 L269.90 176.12 L270.57 176.29 L271.24 176.47 L271.92 176.65 L272.59 176.82 L273.26 177.00 L273.94 177.18 L274.61 177.36 L275.29 177.53 L275.96 177.71 L276.64 177.88 L277.32 178.06 L277.99 178.23 L278.67 178.40 L279.35 178.58 L280.03 178.74 L280.71 178.91 L281.39 179.08 L282.07 179.24 L282.75 179.41 L283.44 179.57 L284.12 179.73 L284.80 179.89 L285.49 180.05 L286.17 180.21 L286.85 180.36 L287.54 180.52 L288.22 180.67 L288.91 180.82 L289.59 180.97 L290.28 181.12 L290.97 181.27 L291.65 181.42 L292.34 181.57 L293.03 181.71 L293.72 181.86 L294.40 182.00 L295.09 182.14 L295.78 182.28 L296.47 182.42 L297.16 182.56 L297.85 182.70 L298.54 182.84 L299.23 182.98 L299.91 183.11 L300.60 183.25 L301.29 183.38 L301.98 183.52 L302.67 183.65 L303.36 183.78 L304.05 183.91 L304.74 184.04 L305.43 184.17 L306.12 184.30 L306.81 184.43 L307.50 184.56 L308.19 184.69 L308.88 184.82 L309.57 184.94 L310.26 185.07 L310.95 185.19 L311.63 185.32 L312.32 185.44 L313.01 185.57 L313.70 185.69 L314.39 185.82 L315.07 185.94 L315.76 186.06 L316.45 186.19 L317.14 186.31 L317.82 186.44 L318.51 186.57 L319.19 186.69 L319.88 186.83 L320.56 186.96 L321.24 187.10 L321.92 187.24 L322.60 187.38 L323.28 187.53 L323.96 187.68 L324.64 187.83 L325.31 187.99 L325.99 188.16 L326.66 188.33 L327.33 188.50 L328.00 188.68 L328.67 188.87 L329.33 189.07 L330.00 189.27 L330.66 189.48 L331.32 189.69 L331.98 189.91 L332.64 190.14 L333.30 190.37 L333.95 190.61 L334.60 190.86 L335.25 191.11 L335.90 191.37 L336.55 191.64 L337.19 191.91 L337.84 192.19 L338.48 192.47 L339.12 192.76 L339.76 193.05 L340.39 193.35 L341.03 193.66 L341.66 193.97 L342.29 194.29 L342.93 194.61 L343.56 194.93 L344.19 195.25 L344.81 195.57 L345.44 195.89 L346.07 196.21 L346.70 196.53 L347.34 196.84 L347.97 197.14 L348.60 197.44 L349.24 197.74 L349.88 198.02 L350.52 198.29 L351.17 198.55 L351.81 198.81 L352.46 199.04 L353.12 199.27 L353.78 199.48 L354.44 199.67 L355.10 199.86 L355.77 200.04 L356.44 200.20 L357.11 200.36 L357.79 200.52 L358.46 200.67 L359.14 200.82 L359.82 200.96 L360.50 201.11 L361.18 201.26 L361.86 201.41 L362.54 201.56 L363.22 201.71 L363.90 201.86 L364.58 202.02 L365.26 202.18 L365.94 202.33 L366.62 202.49 L367.30 202.65 L367.99 202.81 L368.67 202.97 L369.35 203.12 L370.03 203.28 L370.72 203.44 L371.40 203.60 L372.08 203.75 L372.77 203.91 L373.45 204.06 L374.14 204.22 L374.82 204.37 L375.50 204.52 L376.19 204.67 L376.87 204.82 L377.56 204.96 L378.25 205.11 L378.93 205.25 L379.62 205.39 L380.30 205.53 L380.99 205.67 L381.68 205.80 L382.36 205.94 L383.05 206.07 L383.74 206.20 L384.43 206.33 L385.11 206.46 L385.80 206.59 L386.49 206.71 L387.18 206.84 L387.87 206.96 L388.56 207.08 L389.25 207.20 L389.94 207.32 L390.62 207.44 L391.31 207.55 L392.00 207.67 L392.69 207.78 L393.38 207.90 L394.07 208.01 L394.77 208.12 L395.46 208.23 L396.15 208.34 L396.84 208.44 L397.53 208.55 L398.22 208.66 L398.91 208.76 L399.60 208.86 L400.30 208.97 L400.99 209.07 L401.68 209.17 L402.37 209.27 L403.07 209.37 L403.76 209.46 L404.45 209.56 L405.14 209.65 L405.84 209.74 L406.53 209.84 L407.22 209.92 L407.92 210.01 L408.61 210.10 L409.31 210.18 L410.00 210.26 L410.69 210.34 L411.39 210.42 L412.08 210.49 L412.78 210.57 L413.47 210.64 L414.17 210.70 L414.86 210.77 L415.56 210.83 L416.25 210.89 L416.95 210.95 L417.64 211.00 L418.34 211.05 L419.04 211.10 L419.73 211.14 L420.43 211.18 L421.12 211.22 L421.82 211.25 L422.52 211.29 L423.21 211.32 L423.91 211.34 L424.61 211.37 L425.30 211.39 L426.00 211.41 L426.70 211.43 L427.39 211.45 L428.09 211.47 L428.79 211.48 L429.49 211.50 L430.18 211.51 L430.88 211.52 L431.58 211.54 L432.28 211.55 L432.97 211.56 L433.67 211.57 L434.37 211.58 L435.07 211.59 L435.77 211.60 L436.47 211.61 L437.16 211.62 L437.86 211.63 L438.56 211.64 L439.26 211.65 L439.96 211.66 L440.66 211.67 L441.35 211.68 L442.05 211.70 L442.75 211.71 L443.45 211.72 L444.15 211.73 L444.85 211.75 L445.55 211.76 L446.25 211.77 L446.95 211.78 L447.64 211.80 L448.34 211.81 L449.04 211.83 L449.74 211.84 L450.44 211.86 L451.14 211.87 L451.84 211.89 L452.54 211.90 L453.24 211.92 L453.94 211.93 L454.64 211.95 L455.34 211.97 L456.04 211.98 L456.74 212.00 L457.44 212.02 L458.13 212.04 L458.83 212.06 L459.53 212.08 L460.23 212.10 L460.93 212.12 L461.63 212.14 L462.33 212.16 L463.03 212.18 L463.73 212.20 L464.43 212.22 L465.13 212.25 L465.83 212.27 L466.53 212.29 L467.23 212.32 L467.93 212.34 L468.63 212.37 L469.33 212.39 L470.03 212.42 L470.73 212.44 L471.43 212.47 L472.13 212.50 L472.82 212.53 L473.52 212.55 L474.22 212.58 L474.92 212.61 L475.62 212.64 L476.32 212.67 L477.02 212.71 L477.72 212.74 L478.42 212.77 L479.12 212.80 L479.82 212.84 L480.52 212.87 L481.21 212.91 L481.91 212.94 L482.61 212.98 L483.31 213.01 L484.01 213.05 L484.71 213.09 L485.41 213.13 L486.11 213.17 L486.80 213.21 L487.50 213.25 L488.20 213.29 L488.90 213.33 L489.60 213.38 L490.30 213.42 L490.99 213.46 L491.69 213.51 L492.39 213.55 L493.09 213.60 L493.79 213.65 L494.48 213.70 L495.18 213.75 L495.88 213.80 L496.58 213.85 L497.27 213.90 L497.97 213.95 L498.67 214.00 L499.37 214.06 L500.06 214.11 L500.76 214.17 L501.46 214.22 L502.15 214.28 L502.85 214.34 L503.55 214.40 L504.24 214.45 L504.94 214.52 L505.63 214.58 L506.33 214.64 L507.03 214.70 L507.72 214.77 L508.42 214.83 L509.11 214.90 L509.81 214.96 L510.50 215.03 L511.20 215.10" stroke="#0066dd"/>
<path d="M65.40 34.20 L66.09 34.25 L66.78 34.31 L67.47 34.38 L68.16 34.44 L68.85 34.51 L69.54 34.59 L70.23 34.67 L70.92 34.75 L71.61 34.83 L72.29 34.92 L72.98 35.02 L73.67 35.11 L74.36 35.21 L75.04 35.32 L75.73 35.43 L76.42 35.54 L77.11 35.65 L77.79 35.76 L78.48 35.88 L79.16 36.01 L79.85 36.13 L80.54 36.26 L81.22 36.39 L81.91 36.52 L82.59 36.66 L83.28 36.80 L83.96 36.94 L84.65 37.08 L85.33 37.22 L86.02 37.37 L86.70 37.52 L87.38 37.67 L88.07 37.83 L88.75 37.98 L89.43 38.14 L90.12 38.30 L90.80 38.46 L91.48 38.62 L92.17 38.78 L92.85 38.95 L93.53 39.12 L94.21 39.28 L94.90 39.45 L95.58 39.62 L96.26 39.80 L96.94 39.97 L97.62 40.14 L98.31 40.32 L98.99 40.49 L99.67 40.67 L100.35 40.84 L101.03 41.02 L101.71 41.20 L102.39 41.38 L103.07 41.56 L103.75 41.74 L104.43 41.91 L105.11 42.09 L105.79 42.27 L106.47 42.45 L107.15 42.63 L107.83 42.81 L108.51 42.99 L109.19 43.17 L109.87 43.35 L110.55 43.53 L111.23 43.70 L111.91 43.88 L112.59 44.06 L113.27 44.23 L113.95 44.41 L114.63 44.58 L115.31 44.76 L115.99 44.93 L116.66 45.10 L117.34 45.27 L118.02 45.44 L118.70 45.61 L119.38 45.77 L120.06 45.94 L120.74 46.10 L121.41 46.26 L122.09 46.43 L122.77 46.59 L123.45 46.74 L124.13 46.90 L124.81 47.06 L125.48 47.21 L126.16 47.37 L126.84 47.52 L127.52 47.67 L128.20 47.82 L128.87 47.97 L129.55 48.12 L130.23 48.27 L130.91 48.42 L131.58 48.57 L132.26 48.72 L132.94 48.86 L133.62 49.01 L134.30 49.16 L134.97 49.30 L135.65 49.45 L136.33 49.59 L137.01 49.74 L137.68 49.88 L138.36 50.03 L139.04 50.17 L139.72 50.32 L140.40 50.46 L141.07 50.60 L141.75 50.75 L142.43 50.89 L143.11 51.04 L143.78 51.19 L144.46 51.33 L145.14 51.48 L145.82 51.62 L146.50 51.77 L147.17 51.92 L147.85 52.07 L148.53 52.22 L149.21 52.36 L149.89 52.51 L150.56 52.67 L151.24 52.82 L151.92 52.97 L152.60 53.12 L153.28 53.28 L153.96 53.43 L154.63 53.59 L155.31 53.75 L155.99 53.91 L156.67 54.07 L157.35 54.23 L158.03 54.39 L158.71 54.56 L159.38 54.72 L160.06 54.89 L160.74 55.06 L161.42 55.23 L162.10 55.40 L162.78 55.57 L163.46 55.75 L164.14 55.92 L164.82 56.10 L165.50 56.28 L166.18 56.46 L166.86 56.65 L167.54 56.83 L168.22 57.02 L168.90 57.21 L169.58 57.41 L170.26 57.60 L170.94 57.80 L171.62 58.00 L172.30 58.20 L172.30 58.20 L172.71 58.79 L173.10 59.38 L173.50 59.97 L173.89 60.55 L174.28 61.14 L174.66 61.71 L175.05 62.29 L175.44 62.86 L175.83 63.43 L176.23 63.99 L176.64 64.54 L177.05 65.09 L177.48 65.63 L177.91 66.16 L178.36 66.69 L178.82 67.21 L179.29 67.72 L179.77 68.22 L180.26 68.72 L180.76 69.21 L181.27 69.69 L181.78 70.18 L182.30 70.65 L182.83 71.12 L183.36 71.59 L183.89 72.06 L184.42 72.52 L184.95 72.98 L185.48 73.44 L186.00 73.90 L186.53 74.36 L187.05 74.82 L187.57 75.28 L188.08 75.74 L188.58 76.20 L189.08 76.66 L189.57 77.12 L190.05 77.59 L190.54 78.06 L191.02 78.52 L191.51 78.98 L192.00 79.45 L192.50 79.91 L193.00 80.36 L193.52 80.82 L194.04 81.27 L194.57 81.71 L195.11 82.15 L195.66 82.58 L196.21 83.01 L196.77 83.43 L197.34 83.85 L197.91 84.26 L198.48 84.67 L199.05 85.09 L199.63 85.50 L200.20 85.91 L200.77 86.33 L201.33 86.76 L201.89 87.18 L202.45 87.62 L202.99 88.06 L203.54 88.51 L204.07 88.97 L204.60 89.43 L205.13 89.90 L205.65 90.38 L206.16 90.86 L206.67 91.34 L207.17 91.83 L207.67 92.33 L208.16 92.83 L208.65 93.34 L209.13 93.85 L209.60 94.37 L210.07 94.89 L210.54 95.41 L211.00 95.94 L211.46 96.47 L211.91 97.00 L212.35 97.54 L212.79 98.08 L213.23 98.63 L213.66 99.18 L214.09 99.73 L214.51 100.28 L214.93 100.84 L215.34 101.40 L215.75 101.96 L216.16 102.52 L216.56 103.09 L216.96 103.66 L217.35 104.23 L217.74 104.81 L218.13 105.38 L218.52 105.96 L218.90 106.54 L219.28 107.13 L219.65 107.71 L220.03 108.30 L220.40 108.89 L220.77 109.48 L221.13 110.07 L221.49 110.67 L221.85 111.26 L222.21 111.86 L222.57 112.46 L222.92 113.06 L223.28 113.66 L223.63 114.26 L223.98 114.87 L224.33 115.47 L224.67 116.08 L225.02 116.68 L225.36 117.29 L225.71 117.90 L226.05 118.51 L226.39 119.12 L226.73 119.73 L227.07 120.34 L227.42 120.95 L227.76 121.56 L228.10 122.17 L228.44 122.78 L228.78 123.40 L229.12 124.01 L229.46 124.62 L229.80 125.23 L230.14 125.84 L230.48 126.45 L230.82 127.07 L231.17 127.68 L231.51 128.29 L231.86 128.90 L232.20 129.51 L232.55 130.12 L232.90 130.72 L233.25 131.33 L233.60 131.94 L233.96 132.54 L234.31 133.15 L234.67 133.75 L235.03 134.35 L235.39 134.95 L235.76 135.55 L236.13 136.15 L236.49 136.75 L236.87 137.34 L237.24 137.94 L237.62 138.53 L238.00 139.12 L238.38 139.71 L238.77 140.29 L239.16 140.88 L239.56 141.46 L239.95 142.04 L240.35 142.62 L240.76 143.20 L241.17 143.77 L241.58 144.34 L242.00 144.91 L242.42 145.48 L242.84 146.04 L243.27 146.60 L243.71 147.16 L244.15 147.71 L244.59 148.27 L245.03 148.81 L245.48 149.36 L245.93 149.90 L246.39 150.43 L246.84 150.97 L247.30 151.49 L247.76 152.01 L248.22 152.53 L248.69 153.04 L249.15 153.55 L249.62 154.05 L250.09 154.55 L250.56 155.04 L251.02 155.53 L251.49 156.03 L251.96 156.52 L252.43 157.01 L252.90 157.50 L253.36 158.00 L253.83 158.49 L254.29 158.99 L254.75 159.49 L255.22 160.00 L255.67 160.51 L256.13 161.03 L256.59 161.56 L257.04 162.08 L257.49 162.62 L257.95 163.15 L258.40 163.69 L258.85 164.23 L259.30 164.77 L259.76 165.31 L260.21 165.86 L260.67 166.40 L261.13 166.94 L261.59 167.49 L262.05 168.03 L262.52 168.56 L262.99 169.10 L263.47 169.63 L263.95 170.16 L264.43 170.68 L264.92 171.20 L265.41 171.71 L265.91 172.21 L266.41 172.71 L266.92 173.20 L267.43 173.69 L267.95 174.16 L268.47 174.63 L269.00 175.08 L269.54 175.53 L270.08 175.96 L270.63 176.39 L271.18 176.80 L271.74 177.19 L272.31 177.58 L272.89 177.96 L273.47 178.32 L274.05 178.67 L274.64 179.02 L275.24 179.35 L275.84 179.68 L276.45 179.99 L277.06 180.30 L277.68 180.59 L278.30 180.89 L278.93 181.17 L279.56 181.45 L280.19 181.72 L280.83 181.98 L281.47 182.24 L282.12 182.49 L282.77 182.74 L283.42 182.98 L284.07 183.22 L284.73 183.46 L285.40 183.69 L286.06 183.92 L286.73 184.15 L287.39 184.38 L288.07 184.60 L288.74 184.82 L289.41 185.04 L290.09 185.26 L290.77 185.47 L291.44 185.69 L292.12 185.89 L292.80 186.10 L293.49 186.30 L294.17 186.50 L294.85 186.70 L295.53 186.89 L296.21 187.08 L296.90 187.27 L297.58 187.45 L298.26 187.63 L298.94 187.80 L299.62 187.97 L300.30 188.14 L300.98 188.30 L301.66 188.47 L302.34 188.63 L303.01 188.79 L303.69 188.95 L304.37 189.10 L305.04 189.26 L305.72 189.42 L306.40 189.58 L307.07 189.74 L307.74 189.90 L308.42 190.06 L309.09 190.22 L309.77 190.39 L310.44 190.56 L311.11 190.74 L311.78 190.91 L312.45 191.10 L313.13 191.28 L313.80 191.48 L314.47 191.67 L315.14 191.88 L315.81 192.08 L316.48 192.29 L317.15 192.51 L317.82 192.73 L318.49 192.95 L319.16 193.17 L319.83 193.39 L320.50 193.62 L321.17 193.84 L321.84 194.07 L322.50 194.29 L323.17 194.52 L323.84 194.74 L324.51 194.96 L325.18 195.18 L325.85 195.39 L326.52 195.61 L327.19 195.82 L327.85 196.02 L328.52 196.23 L329.19 196.43 L329.86 196.63 L330.53 196.82 L331.20 197.02 L331.86 197.21 L332.53 197.40 L333.20 197.59 L333.87 197.78 L334.54 197.96 L335.21 198.15 L335.88 198.33 L336.55 198.51 L337.21 198.69 L337.88 198.87 L338.55 199.05 L339.22 199.23 L339.89 199.40 L340.56 199.58 L341.23 199.76 L341.90 199.93 L342.57 200.11 L343.24 200.28 L343.91 200.46 L344.58 200.63 L345.25 200.81 L345.92 200.98 L346.59 201.16 L347.26 201.33 L347.93 201.51 L348.60 201.69 L349.27 201.87 L349.94 202.05 L350.61 202.23 L351.28 202.41 L351.95 202.59 L352.62 202.78 L353.30 202.96 L353.97 203.15 L354.64 203.34 L355.31 203.53 L355.98 203.72 L356.66 203.92 L357.33 204.12 L358.00 204.32 L358.68 204.52 L359.35 204.72 L360.02 204.93 L360.70 205.14 L361.37 205.35 L362.04 205.57 L362.72 205.78 L363.39 206.00 L364.07 206.22 L364.74 206.44 L365.42 206.65 L366.10 206.87 L366.77 207.08 L367.45 207.29 L368.12 207.49 L368.80 207.70 L369.48 207.89 L370.16 208.09 L370.83 208.28 L371.51 208.46 L372.19 208.64 L372.87 208.82 L373.55 208.99 L374.23 209.17 L374.91 209.33 L375.59 209.50 L376.27 209.65 L376.95 209.81 L377.63 209.96 L378.31 210.11 L378.99 210.26 L379.68 210.40 L380.36 210.54 L381.04 210.68 L381.73 210.81 L382.41 210.94 L383.09 211.07 L383.78 211.20 L384.46 211.32 L385.15 211.44 L385.83 211.56 L386.52 211.67 L387.21 211.78 L387.89 211.89 L388.58 212.00 L389.27 212.10 L389.96 212.21 L390.64 212.31 L391.33 212.40 L392.02 212.50 L392.71 212.59 L393.40 212.68 L394.09 212.77 L394.78 212.86 L395.47 212.94 L396.16 213.03 L396.85 213.11 L397.55 213.19 L398.24 213.27 L398.93 213.34 L399.62 213.42 L400.32 213.49 L401.01 213.56 L401.70 213.63 L402.40 213.70 L403.09 213.76 L403.78 213.83 L404.48 213.89 L405.17 213.95 L405.87 214.01 L406.56 214.07 L407.26 214.13 L407.95 214.19 L408.65 214.25 L409.35 214.30 L410.04 214.36 L410.74 214.41 L411.44 214.46 L412.13 214.52 L412.83 214.57 L413.53 214.62 L414.22 214.67 L414.92 214.72 L415.62 214.76 L416.32 214.81 L417.01 214.86 L417.71 214.91 L418.41 214.95 L419.11 215.00 L419.81 215.04 L420.51 215.09 L421.21 215.14 L421.90 215.18 L422.60 215.23 L423.30 215.27 L424.00 215.31 L424.70 215.36 L425.40 215.40 L426.10 215.45 L426.80 215.49 L427.50 215.53 L428.20 215.57 L428.90 215.62 L429.60 215.66 L430.30 215.70 L431.00 215.74 L431.70 215.79 L432.40 215.83 L433.10 215.87 L433.80 215.91 L434.50 215.95 L435.20 215.99 L435.90 216.03 L436.60 216.07 L437.30 216.11 L438.00 216.16 L438.70 216.20 L439.40 216.24 L440.11 216.28 L440.81 216.32 L441.51 216.36 L442.21 216.40 L442.91 216.44 L443.61 216.48 L444.31 216.52 L445.01 216.56 L445.71 216.60 L446.41 216.64 L447.11 216.68 L447.81 216.72 L448.51 216.76 L449.21 216.80 L449.91 216.84 L450.61 216.88 L451.31 216.92 L452.00 216.96 L452.70 217.00 L453.40 217.04 L454.10 217.08 L454.80 217.12 L455.50 217.16 L456.20 217.21 L456.90 217.25 L457.60 217.29 L458.29 217.33 L458.99 217.38 L459.69 217.42 L460.39 217.47 L461.08 217.51 L461.78 217.56 L462.48 217.61 L463.18 217.65 L463.87 217.70 L464.57 217.75 L465.27 217.81 L465.96 217.86 L466.66 217.91 L467.35 217.97 L468.05 218.02 L468.75 218.08 L469.44 218.14 L470.14 218.20 L470.83 218.26 L471.52 218.32 L472.22 218.38 L472.91 218.45 L473.61 218.52 L474.30 218.58 L474.99 218.66 L475.69 218.73 L476.38 218.80 L477.07 218.88 L477.76 218.96 L478.45 219.03 L479.15 219.12 L479.84 219.20 L480.53 219.29 L481.22 219.37 L481.91 219.46 L482.60 219.56 L483.29 219.65 L483.98 219.75 L484.66 219.85 L485.35 219.95 L486.04 220.05 L486.73 220.16 L487.42 220.27 L488.10 220.38 L488.79 220.50 L489.48 220.61 L490.16 220.73 L490.85 220.86 L491.53 220.98 L492.22 221.11 L492.90 221.24 L493.58 221.38 L494.27 221.52 L494.95 221.66 L495.63 221.80 L496.32 221.95 L497.00 222.10 L497.68 222.25 L498.36 222.41 L499.04 222.57 L499.72 222.73 L500.40 222.90 L501.08 223.07 L501.76 223.25 L502.43 223.43 L503.11 223.61 L503.79 223.79 L504.46 223.98 L505.14 224.18 L505.82 224.37 L506.49 224.58 L507.17 224.78 L507.84 224.99 L508.51 225.20 L509.19 225.42 L509.86 225.64 L510.53 225.87 L511.20 226.10" stroke="#00a65a"/>
<path d="M65.40 34.20 L66.09 34.31 L66.78 34.43 L67.47 34.55 L68.17 34.67 L68.86 34.79 L69.55 34.92 L70.24 35.05 L70.93 35.18 L71.62 35.32 L72.31 35.46 L72.99 35.60 L73.68 35.75 L74.36 35.90 L75.05 36.05 L75.73 36.21 L76.41 36.38 L77.09 36.54 L77.77 36.72 L78.45 36.89 L79.12 37.08 L79.79 37.27 L80.47 37.46 L81.13 37.66 L81.80 37.86 L82.46 38.07 L83.13 38.29 L83.79 38.51 L84.44 38.74 L85.10 38.97 L85.75 39.21 L86.39 39.46 L87.04 39.71 L87.68 39.97 L88.32 40.24 L88.96 40.52 L89.59 40.80 L90.22 41.09 L90.84 41.39 L91.46 41.69 L92.08 42.00 L92.69 42.32 L93.30 42.65 L93.91 42.99 L94.51 43.34 L95.10 43.69 L95.70 44.06 L96.28 44.43 L96.87 44.80 L97.45 45.19 L98.03 45.58 L98.61 45.97 L99.18 46.37 L99.75 46.78 L100.32 47.18 L100.89 47.60 L101.46 48.01 L102.02 48.43 L102.59 48.85 L103.15 49.28 L103.71 49.70 L104.28 50.13 L104.84 50.55 L105.40 50.98 L105.97 51.40 L106.53 51.83 L107.10 52.25 L107.66 52.67 L108.23 53.09 L108.80 53.50 L109.37 53.92 L109.95 54.33 L110.52 54.73 L111.10 55.13 L111.69 55.53 L112.27 55.92 L112.86 56.30 L113.45 56.68 L114.05 57.05 L114.65 57.42 L115.25 57.78 L115.85 58.14 L116.45 58.49 L117.06 58.83 L117.67 59.17 L118.29 59.50 L118.91 59.82 L119.52 60.14 L120.15 60.46 L120.77 60.76 L121.40 61.06 L122.03 61.35 L122.66 61.64 L123.29 61.92 L123.93 62.19 L124.57 62.45 L125.21 62.71 L125.85 62.96 L126.50 63.20 L127.14 63.44 L127.79 63.66 L128.44 63.89 L129.10 64.10 L129.75 64.31 L130.41 64.51 L131.07 64.71 L131.73 64.90 L132.39 65.08 L133.06 65.26 L133.73 65.44 L134.39 65.61 L135.06 65.77 L135.74 65.93 L136.41 66.08 L137.08 66.23 L137.76 66.38 L138.44 66.52 L139.12 66.66 L139.80 66.79 L140.48 66.92 L141.16 67.05 L141.85 67.17 L142.54 67.29 L143.22 67.41 L143.91 67.52 L144.60 67.63 L145.29 67.74 L145.98 67.85 L146.68 67.95 L147.37 68.06 L148.07 68.16 L148.76 68.26 L149.46 68.36 L150.16 68.46 L150.85 68.55 L151.55 68.65 L152.25 68.75 L152.95 68.84 L153.66 68.94 L154.36 69.03 L155.06 69.13 L155.76 69.22 L156.47 69.32 L157.17 69.41 L157.88 69.51 L158.58 69.60 L159.29 69.70 L159.99 69.80 L160.70 69.90 L161.40 70.00 L162.11 70.10 L162.81 70.19 L163.52 70.29 L164.22 70.40 L164.93 70.50 L165.63 70.60 L166.34 70.70 L167.04 70.80 L167.74 70.91 L168.45 71.01 L169.15 71.12 L169.85 71.22 L170.55 71.33 L171.25 71.43 L171.95 71.54 L172.65 71.65 L173.35 71.76 L174.04 71.87 L174.74 71.98 L175.43 72.09 L176.12 72.20 L176.81 72.32 L177.50 72.44 L178.19 72.56 L178.88 72.68 L179.57 72.81 L180.25 72.94 L180.93 73.08 L181.61 73.21 L182.29 73.35 L182.97 73.50 L183.64 73.65 L184.32 73.80 L184.99 73.96 L185.65 74.13 L186.32 74.30 L186.99 74.47 L187.65 74.66 L188.31 74.84 L188.96 75.04 L189.62 75.24 L190.27 75.45 L190.92 75.66 L191.57 75.88 L192.21 76.11 L192.85 76.35 L193.49 76.60 L194.12 76.85 L194.76 77.12 L195.39 77.39 L196.01 77.67 L196.64 77.96 L197.25 78.26 L197.87 78.57 L198.48 78.89 L199.09 79.22 L199.70 79.56 L200.30 79.91 L200.90 80.28 L201.49 80.65 L202.08 81.03 L202.67 81.42 L203.25 81.81 L203.82 82.22 L204.39 82.64 L204.96 83.06 L205.52 83.49 L206.07 83.93 L206.62 84.38 L207.16 84.83 L207.69 85.29 L208.22 85.76 L208.74 86.23 L209.26 86.71 L209.77 87.20 L210.27 87.69 L210.77 88.19 L211.26 88.69 L211.75 89.20 L212.23 89.72 L212.71 90.23 L213.18 90.76 L213.65 91.28 L214.11 91.81 L214.57 92.35 L215.02 92.89 L215.47 93.43 L215.92 93.97 L216.36 94.52 L216.79 95.07 L217.23 95.62 L217.66 96.18 L218.08 96.73 L218.50 97.29 L218.92 97.86 L219.34 98.42 L219.75 98.99 L220.16 99.55 L220.57 100.12 L220.97 100.70 L221.37 101.27 L221.77 101.84 L222.16 102.42 L222.55 103.00 L222.94 103.58 L223.33 104.16 L223.71 104.74 L224.10 105.33 L224.48 105.91 L224.85 106.50 L225.23 107.09 L225.61 107.68 L225.98 108.27 L226.35 108.86 L226.72 109.45 L227.09 110.04 L227.45 110.64 L227.82 111.23 L228.18 111.82 L228.55 112.42 L228.91 113.01 L229.27 113.61 L229.63 114.21 L229.99 114.80 L230.35 115.40 L230.70 115.99 L231.06 116.59 L231.42 117.19 L231.77 117.78 L232.13 118.38 L232.49 118.97 L232.84 119.57 L233.20 120.16 L233.56 120.76 L233.91 121.35 L234.27 121.95 L234.62 122.54 L234.98 123.14 L235.33 123.74 L235.69 124.33 L236.05 124.93 L236.40 125.52 L236.76 126.12 L237.11 126.72 L237.47 127.31 L237.82 127.91 L238.18 128.51 L238.54 129.11 L238.89 129.71 L239.25 130.31 L239.61 130.91 L239.96 131.51 L240.32 132.11 L240.68 132.72 L241.03 133.32 L241.39 133.93 L241.75 134.53 L242.11 135.14 L242.47 135.75 L242.83 136.36 L243.19 136.97 L243.55 137.58 L243.91 138.19 L244.28 138.79 L244.64 139.40 L245.01 140.01 L245.38 140.61 L245.76 141.21 L246.14 141.81 L246.52 142.41 L246.91 143.00 L247.30 143.58 L247.70 144.17 L248.10 144.74 L248.51 145.31 L248.93 145.88 L249.35 146.44 L249.78 146.99 L250.22 147.53 L250.66 148.07 L251.12 148.59 L251.58 149.11 L252.05 149.62 L252.53 150.12 L253.02 150.61 L253.52 151.09 L254.02 151.56 L254.54 152.02 L255.06 152.47 L255.59 152.91 L256.13 153.34 L256.68 153.76 L257.23 154.17 L257.79 154.57 L258.36 154.96 L258.93 155.34 L259.51 155.72 L260.10 156.08 L260.69 156.43 L261.28 156.77 L261.88 157.11 L262.49 157.43 L263.10 157.75 L263.72 158.06 L264.34 158.36 L264.96 158.66 L265.59 158.95 L266.22 159.23 L266.85 159.51 L267.49 159.78 L268.13 160.05 L268.77 160.31 L269.41 160.58 L270.06 160.83 L270.71 161.09 L271.36 161.34 L272.01 161.60 L272.66 161.85 L273.31 162.10 L273.96 162.34 L274.62 162.59 L275.27 162.84 L275.93 163.08 L276.59 163.32 L277.24 163.56 L277.90 163.80 L278.56 164.04 L279.22 164.28 L279.88 164.51 L280.55 164.74 L281.21 164.98 L281.87 165.21 L282.54 165.43 L283.20 165.66 L283.87 165.88 L284.53 166.11 L285.20 166.33 L285.87 166.55 L286.54 166.76 L287.20 166.98 L287.87 167.19 L288.54 167.40 L289.21 167.61 L289.88 167.82 L290.56 168.02 L291.23 168.22 L291.90 168.43 L292.57 168.62 L293.25 168.82 L293.92 169.02 L294.59 169.21 L295.27 169.40 L295.94 169.59 L296.62 169.78 L297.29 169.97 L297.97 170.16 L298.64 170.34 L299.32 170.53 L299.99 170.71 L300.67 170.89 L301.34 171.08 L302.02 171.26 L302.70 171.44 L303.37 171.62 L304.05 171.80 L304.73 171.97 L305.40 172.15 L306.08 172.33 L306.76 172.51 L307.43 172.69 L308.11 172.86 L308.79 173.04 L309.46 173.22 L310.14 173.40 L310.81 173.57 L311.49 173.75 L312.17 173.93 L312.84 174.11 L313.52 174.29 L314.19 174.47 L314.87 174.65 L315.54 174.83 L316.22 175.02 L316.89 175.20 L317.57 175.38 L318.24 175.57 L318.91 175.75 L319.59 175.93 L320.26 176.12 L320.93 176.30 L321.61 176.49 L322.28 176.67 L322.95 176.86 L323.62 177.05 L324.30 177.23 L324.97 177.42 L325.64 177.60 L326.31 177.79 L326.99 177.98 L327.66 178.16 L328.33 178.35 L329.00 178.53 L329.68 178.72 L330.35 178.90 L331.02 179.09 L331.69 179.27 L332.36 179.46 L333.04 179.64 L333.71 179.82 L334.38 180.01 L335.05 180.19 L335.73 180.37 L336.40 180.55 L337.07 180.73 L337.74 180.91 L338.42 181.09 L339.09 181.27 L339.76 181.45 L340.44 181.63 L341.11 181.81 L341.78 181.99 L342.46 182.17 L343.13 182.35 L343.80 182.53 L344.48 182.70 L345.15 182.88 L345.83 183.06 L346.50 183.24 L347.18 183.41 L347.85 183.59 L348.53 183.77 L349.20 183.94 L349.88 184.12 L350.56 184.30 L351.23 184.47 L351.91 184.65 L352.59 184.82 L353.26 185.00 L353.94 185.18 L354.62 185.35 L355.30 185.52 L355.98 185.70 L356.66 185.87 L357.33 186.04 L358.01 186.22 L358.69 186.39 L359.37 186.56 L360.05 186.73 L360.73 186.90 L361.41 187.07 L362.09 187.24 L362.78 187.41 L363.46 187.58 L364.14 187.74 L364.82 187.91 L365.50 188.07 L366.18 188.24 L366.87 188.40 L367.55 188.56 L368.23 188.72 L368.91 188.88 L369.60 189.04 L370.28 189.20 L370.96 189.36 L371.65 189.51 L372.33 189.67 L373.02 189.82 L373.70 189.97 L374.39 190.12 L375.07 190.27 L375.76 190.42 L376.44 190.56 L377.13 190.71 L377.81 190.85 L378.50 191.00 L379.19 191.14 L379.87 191.28 L380.56 191.41 L381.25 191.55 L381.93 191.68 L382.62 191.82 L383.31 191.95 L383.99 192.08 L384.68 192.20 L385.37 192.33 L386.06 192.45 L386.75 192.57 L387.44 192.69 L388.13 192.81 L388.81 192.93 L389.50 193.04 L390.19 193.15 L390.88 193.26 L391.57 193.37 L392.26 193.48 L392.95 193.58 L393.64 193.68 L394.33 193.78 L395.02 193.88 L395.71 193.98 L396.41 194.07 L397.10 194.16 L397.79 194.25 L398.48 194.34 L399.17 194.43 L399.86 194.51 L400.55 194.60 L401.25 194.68 L401.94 194.76 L402.63 194.84 L403.32 194.92 L404.02 194.99 L404.71 195.07 L405.40 195.14 L406.10 195.22 L406.79 195.29 L407.48 195.36 L408.18 195.43 L408.87 195.50 L409.56 195.56 L410.26 195.63 L410.95 195.70 L411.65 195.76 L412.34 195.83 L413.04 195.89 L413.73 195.96 L414.43 196.02 L415.12 196.08 L415.82 196.14 L416.51 196.20 L417.21 196.26 L417.90 196.32 L418.60 196.38 L419.30 196.44 L419.99 196.50 L420.69 196.56 L421.38 196.62 L422.08 196.68 L422.78 196.74 L423.47 196.80 L424.17 196.86 L424.87 196.92 L425.56 196.98 L426.26 197.04 L426.96 197.10 L427.66 197.16 L428.35 197.23 L429.05 197.29 L429.75 197.35 L430.45 197.41 L431.14 197.48 L431.84 197.54 L432.54 197.60 L433.24 197.67 L433.94 197.73 L434.63 197.80 L435.33 197.87 L436.03 197.93 L436.73 198.00 L437.42 198.07 L438.12 198.14 L438.82 198.21 L439.52 198.28 L440.22 198.35 L440.91 198.43 L441.61 198.50 L442.31 198.57 L443.00 198.65 L443.70 198.73 L444.40 198.80 L445.10 198.88 L445.79 198.96 L446.49 199.04 L447.19 199.12 L447.88 199.21 L448.58 199.29 L449.27 199.37 L449.97 199.46 L450.67 199.55 L451.36 199.64 L452.06 199.73 L452.75 199.82 L453.44 199.91 L454.14 200.00 L454.83 200.10 L455.53 200.20 L456.22 200.29 L456.91 200.39 L457.61 200.49 L458.30 200.60 L458.99 200.70 L459.68 200.81 L460.37 200.91 L461.07 201.02 L461.76 201.13 L462.45 201.24 L463.14 201.36 L463.83 201.47 L464.52 201.59 L465.21 201.71 L465.89 201.83 L466.58 201.95 L467.27 202.08 L467.96 202.20 L468.64 202.33 L469.33 202.46 L470.02 202.59 L470.70 202.73 L471.39 202.86 L472.07 203.00 L472.75 203.14 L473.44 203.29 L474.12 203.43 L474.80 203.58 L475.48 203.73 L476.16 203.88 L476.84 204.03 L477.52 204.18 L478.20 204.34 L478.88 204.50 L479.56 204.66 L480.24 204.83 L480.91 205.00 L481.59 205.17 L482.27 205.34 L482.94 205.51 L483.62 205.69 L484.29 205.87 L484.96 206.05 L485.63 206.23 L486.31 206.42 L486.98 206.61 L487.65 206.80 L488.32 207.00 L488.98 207.19 L489.65 207.40 L490.32 207.60 L490.98 207.80 L491.65 208.01 L492.31 208.22 L492.98 208.44 L493.64 208.66 L494.30 208.88 L494.97 209.10 L495.63 209.32 L496.29 209.55 L496.94 209.78 L497.60 210.02 L498.26 210.26 L498.92 210.50 L499.57 210.74 L500.22 210.99 L500.88 211.24 L501.53 211.49 L502.18 211.75 L502.83 212.01 L503.48 212.27 L504.13 212.54 L504.78 212.81 L505.43 213.09 L506.07 213.36 L506.72 213.64 L507.36 213.93 L508.00 214.21 L508.64 214.50 L509.28 214.80 L509.92 215.09 L510.56 215.40 L511.20 215.70" stroke="#b366dd"/>
<path d="M65.40 34.20 L66.10 34.25 L66.79 34.31 L67.49 34.36 L68.18 34.42 L68.88 34.49 L69.57 34.55 L70.27 34.62 L70.96 34.69 L71.66 34.76 L72.35 34.84 L73.04 34.92 L73.73 35.00 L74.43 35.08 L75.12 35.17 L75.81 35.26 L76.50 35.35 L77.19 35.44 L77.88 35.53 L78.57 35.63 L79.26 35.73 L79.95 35.83 L80.64 35.94 L81.33 36.04 L82.02 36.15 L82.71 36.26 L83.40 36.37 L84.08 36.48 L84.77 36.60 L85.46 36.72 L86.15 36.84 L86.83 36.96 L87.52 37.08 L88.21 37.21 L88.89 37.33 L89.58 37.46 L90.26 37.59 L90.95 37.72 L91.63 37.86 L92.32 37.99 L93.00 38.13 L93.69 38.27 L94.37 38.41 L95.05 38.55 L95.74 38.69 L96.42 38.83 L97.10 38.98 L97.78 39.12 L98.47 39.27 L99.15 39.42 L99.83 39.57 L100.51 39.72 L101.19 39.87 L101.88 40.03 L102.56 40.18 L103.24 40.34 L103.92 40.49 L104.60 40.65 L105.28 40.81 L105.96 40.97 L106.64 41.13 L107.32 41.29 L108.00 41.45 L108.68 41.61 L109.36 41.78 L110.04 41.94 L110.72 42.11 L111.40 42.27 L112.08 42.44 L112.76 42.60 L113.43 42.77 L114.11 42.94 L114.79 43.11 L115.47 43.28 L116.15 43.45 L116.83 43.61 L117.50 43.78 L118.18 43.95 L118.86 44.12 L119.54 44.30 L120.21 44.47 L120.89 44.64 L121.57 44.81 L122.25 44.98 L122.92 45.15 L123.60 45.32 L124.28 45.49 L124.95 45.67 L125.63 45.84 L126.31 46.01 L126.98 46.18 L127.66 46.35 L128.34 46.52 L129.01 46.69 L129.69 46.86 L130.37 47.04 L131.04 47.21 L131.72 47.38 L132.40 47.55 L133.07 47.72 L133.75 47.89 L134.42 48.06 L135.10 48.23 L135.78 48.40 L136.45 48.57 L137.13 48.74 L137.80 48.91 L138.48 49.08 L139.16 49.25 L139.83 49.42 L140.51 49.59 L141.19 49.76 L141.86 49.93 L142.54 50.10 L143.21 50.27 L143.89 50.44 L144.57 50.61 L145.24 50.78 L145.92 50.95 L146.60 51.11 L147.27 51.28 L147.95 51.45 L148.63 51.62 L149.30 51.78 L149.98 51.95 L150.66 52.12 L151.33 52.29 L152.01 52.45 L152.69 52.62 L153.36 52.78 L154.04 52.95 L154.72 53.12 L155.39 53.28 L156.07 53.45 L156.75 53.61 L157.43 53.78 L158.10 53.94 L158.78 54.10 L159.46 54.27 L160.14 54.43 L160.82 54.59 L161.49 54.76 L162.17 54.92 L162.85 55.08 L163.53 55.24 L164.21 55.40 L164.89 55.56 L165.57 55.72 L166.25 55.88 L166.92 56.04 L167.60 56.20 L168.28 56.36 L168.96 56.52 L169.64 56.68 L170.32 56.84 L171.00 56.99 L171.68 57.15 L172.37 57.31 L173.05 57.46 L173.73 57.62 L174.41 57.78 L175.09 57.93 L175.77 58.09 L176.45 58.24 L177.14 58.39 L177.82 58.55 L178.50 58.70 L178.50 58.70 L178.80 59.34 L179.12 59.97 L179.44 60.59 L179.77 61.21 L180.11 61.83 L180.46 62.43 L180.82 63.03 L181.18 63.63 L181.55 64.22 L181.93 64.81 L182.32 65.39 L182.72 65.96 L183.12 66.53 L183.53 67.09 L183.95 67.65 L184.37 68.21 L184.80 68.75 L185.24 69.30 L185.68 69.83 L186.13 70.37 L186.59 70.90 L187.05 71.42 L187.52 71.94 L187.99 72.45 L188.47 72.96 L188.96 73.46 L189.44 73.96 L189.94 74.46 L190.44 74.95 L190.94 75.44 L191.45 75.92 L191.96 76.40 L192.48 76.87 L193.00 77.34 L193.53 77.81 L194.06 78.27 L194.59 78.73 L195.12 79.18 L195.66 79.63 L196.21 80.08 L196.75 80.52 L197.30 80.96 L197.85 81.39 L198.40 81.82 L198.96 82.25 L199.52 82.67 L200.08 83.09 L200.64 83.51 L201.20 83.93 L201.76 84.35 L202.33 84.76 L202.89 85.18 L203.45 85.60 L204.01 86.01 L204.56 86.43 L205.12 86.86 L205.67 87.28 L206.22 87.71 L206.77 88.14 L207.31 88.58 L207.84 89.03 L208.37 89.48 L208.90 89.93 L209.42 90.40 L209.93 90.87 L210.44 91.35 L210.93 91.83 L211.43 92.33 L211.91 92.84 L212.38 93.35 L212.85 93.87 L213.31 94.40 L213.77 94.93 L214.21 95.47 L214.65 96.02 L215.08 96.57 L215.50 97.13 L215.91 97.70 L216.32 98.27 L216.72 98.84 L217.11 99.42 L217.50 100.00 L217.88 100.59 L218.26 101.18 L218.64 101.77 L219.01 102.36 L219.37 102.96 L219.74 103.56 L220.10 104.16 L220.46 104.76 L220.81 105.36 L221.17 105.96 L221.52 106.56 L221.88 107.17 L222.23 107.77 L222.59 108.37 L222.94 108.97 L223.30 109.57 L223.65 110.17 L224.01 110.77 L224.36 111.37 L224.72 111.96 L225.08 112.56 L225.44 113.15 L225.80 113.75 L226.16 114.34 L226.52 114.93 L226.88 115.52 L227.25 116.11 L227.61 116.70 L227.98 117.29 L228.35 117.88 L228.72 118.47 L229.09 119.05 L229.46 119.64 L229.83 120.22 L230.21 120.80 L230.59 121.39 L230.97 121.97 L231.35 122.55 L231.73 123.12 L232.12 123.70 L232.51 124.28 L232.90 124.85 L233.29 125.43 L233.68 126.00 L234.08 126.57 L234.48 127.14 L234.88 127.71 L235.29 128.28 L235.70 128.85 L236.11 129.41 L236.52 129.98 L236.94 130.54 L237.36 131.10 L237.78 131.66 L238.20 132.22 L238.63 132.78 L239.06 133.34 L239.49 133.89 L239.92 134.45 L240.36 135.00 L240.80 135.55 L241.24 136.10 L241.68 136.65 L242.12 137.20 L242.57 137.74 L243.02 138.29 L243.47 138.83 L243.92 139.37 L244.37 139.91 L244.83 140.45 L245.29 140.99 L245.75 141.52 L246.21 142.06 L246.67 142.59 L247.13 143.12 L247.60 143.65 L248.06 144.18 L248.53 144.70 L249.00 145.23 L249.47 145.75 L249.94 146.27 L250.41 146.79 L250.88 147.31 L251.36 147.83 L251.83 148.34 L252.31 148.85 L252.78 149.36 L253.26 149.87 L253.74 150.38 L254.21 150.89 L254.69 151.40 L255.17 151.90 L255.65 152.40 L256.13 152.91 L256.61 153.41 L257.09 153.92 L257.56 154.42 L258.04 154.92 L258.52 155.42 L259.00 155.93 L259.48 156.43 L259.95 156.94 L260.43 157.44 L260.90 157.95 L261.38 158.46 L261.85 158.97 L262.32 159.48 L262.79 159.99 L263.26 160.50 L263.73 161.02 L264.20 161.53 L264.67 162.05 L265.13 162.58 L265.59 163.10 L266.05 163.63 L266.51 164.16 L266.97 164.69 L267.42 165.23 L267.88 165.77 L268.33 166.31 L268.78 166.85 L269.23 167.40 L269.68 167.94 L270.14 168.48 L270.59 169.02 L271.05 169.55 L271.52 170.08 L271.99 170.60 L272.47 171.11 L272.95 171.62 L273.44 172.11 L273.95 172.59 L274.46 173.06 L274.98 173.52 L275.51 173.97 L276.05 174.40 L276.59 174.83 L277.15 175.24 L277.71 175.64 L278.28 176.03 L278.85 176.41 L279.44 176.78 L280.03 177.13 L280.63 177.48 L281.23 177.81 L281.84 178.13 L282.45 178.44 L283.07 178.75 L283.70 179.04 L284.33 179.32 L284.97 179.58 L285.61 179.85 L286.25 180.10 L286.90 180.34 L287.55 180.57 L288.21 180.80 L288.87 181.02 L289.54 181.23 L290.20 181.44 L290.87 181.63 L291.55 181.83 L292.22 182.02 L292.90 182.20 L293.58 182.38 L294.26 182.55 L294.95 182.72 L295.63 182.89 L296.32 183.06 L297.01 183.22 L297.70 183.38 L298.39 183.54 L299.08 183.70 L299.77 183.86 L300.46 184.01 L301.15 184.17 L301.84 184.33 L302.53 184.49 L303.22 184.65 L303.91 184.81 L304.60 184.97 L305.28 185.14 L305.97 185.31 L306.65 185.48 L307.33 185.66 L308.01 185.84 L308.69 186.02 L309.37 186.21 L310.04 186.40 L310.71 186.59 L311.39 186.79 L312.06 186.99 L312.73 187.19 L313.39 187.39 L314.06 187.60 L314.73 187.80 L315.39 188.01 L316.06 188.23 L316.72 188.44 L317.38 188.66 L318.04 188.87 L318.70 189.09 L319.36 189.31 L320.02 189.54 L320.68 189.76 L321.34 189.99 L322.00 190.21 L322.66 190.44 L323.31 190.67 L323.97 190.90 L324.63 191.13 L325.28 191.36 L325.94 191.59 L326.59 191.82 L327.25 192.05 L327.91 192.29 L328.56 192.52 L329.22 192.75 L329.88 192.98 L330.53 193.22 L331.19 193.45 L331.85 193.68 L332.51 193.91 L333.17 194.14 L333.82 194.37 L334.48 194.60 L335.14 194.83 L335.80 195.06 L336.47 195.29 L337.13 195.52 L337.79 195.74 L338.45 195.97 L339.12 196.19 L339.78 196.42 L340.44 196.64 L341.11 196.86 L341.77 197.08 L342.44 197.30 L343.11 197.52 L343.77 197.73 L344.44 197.95 L345.11 198.16 L345.78 198.37 L346.45 198.59 L347.11 198.79 L347.78 199.00 L348.45 199.21 L349.12 199.42 L349.80 199.62 L350.47 199.82 L351.14 200.02 L351.81 200.22 L352.48 200.42 L353.16 200.61 L353.83 200.81 L354.51 201.00 L355.18 201.19 L355.86 201.38 L356.53 201.56 L357.21 201.75 L357.88 201.93 L358.56 202.11 L359.24 202.29 L359.91 202.46 L360.59 202.64 L361.27 202.81 L361.95 202.98 L362.63 203.15 L363.31 203.31 L363.99 203.47 L364.67 203.63 L365.35 203.79 L366.03 203.95 L366.71 204.10 L367.39 204.26 L368.08 204.41 L368.76 204.55 L369.44 204.70 L370.12 204.84 L370.81 204.99 L371.49 205.13 L372.18 205.26 L372.86 205.40 L373.55 205.53 L374.23 205.66 L374.92 205.79 L375.60 205.92 L376.29 206.05 L376.98 206.17 L377.66 206.29 L378.35 206.41 L379.04 206.53 L379.73 206.65 L380.42 206.76 L381.10 206.87 L381.79 206.98 L382.48 207.09 L383.17 207.20 L383.86 207.30 L384.55 207.41 L385.24 207.51 L385.93 207.61 L386.63 207.71 L387.32 207.80 L388.01 207.90 L388.70 207.99 L389.39 208.08 L390.09 208.17 L390.78 208.25 L391.47 208.34 L392.16 208.42 L392.86 208.50 L393.55 208.58 L394.25 208.66 L394.94 208.74 L395.63 208.81 L396.33 208.89 L397.02 208.96 L397.72 209.03 L398.42 209.10 L399.11 209.17 L399.81 209.24 L400.50 209.30 L401.20 209.37 L401.90 209.43 L402.59 209.49 L403.29 209.55 L403.99 209.61 L404.68 209.67 L405.38 209.73 L406.08 209.79 L406.78 209.85 L407.47 209.90 L408.17 209.96 L408.87 210.01 L409.57 210.06 L410.27 210.12 L410.97 210.17 L411.67 210.22 L412.36 210.27 L413.06 210.32 L413.76 210.37 L414.46 210.42 L415.16 210.47 L415.86 210.52 L416.56 210.57 L417.26 210.62 L417.96 210.67 L418.66 210.72 L419.36 210.77 L420.06 210.82 L420.76 210.86 L421.46 210.91 L422.16 210.96 L422.86 211.01 L423.56 211.06 L424.26 211.10 L424.96 211.15 L425.66 211.20 L426.36 211.25 L427.06 211.30 L427.76 211.35 L428.46 211.39 L429.16 211.44 L429.86 211.49 L430.56 211.54 L431.26 211.59 L431.96 211.63 L432.67 211.68 L433.37 211.73 L434.07 211.78 L434.77 211.83 L435.47 211.87 L436.17 211.92 L436.87 211.97 L437.57 212.02 L438.27 212.07 L438.97 212.12 L439.67 212.17 L440.37 212.21 L441.07 212.26 L441.77 212.31 L442.47 212.36 L443.17 212.41 L443.87 212.46 L444.57 212.51 L445.27 212.56 L445.96 212.61 L446.66 212.66 L447.36 212.71 L448.06 212.76 L448.76 212.81 L449.46 212.86 L450.16 212.91 L450.86 212.96 L451.55 213.01 L452.25 213.06 L452.95 213.11 L453.65 213.16 L454.35 213.21 L455.04 213.27 L455.74 213.32 L456.44 213.37 L457.13 213.43 L457.83 213.48 L458.53 213.54 L459.22 213.59 L459.92 213.65 L460.62 213.71 L461.31 213.76 L462.01 213.82 L462.70 213.88 L463.40 213.94 L464.09 214.01 L464.79 214.07 L465.48 214.13 L466.17 214.20 L466.87 214.26 L467.56 214.33 L468.26 214.40 L468.95 214.47 L469.64 214.54 L470.33 214.62 L471.03 214.69 L471.72 214.77 L472.41 214.85 L473.10 214.93 L473.79 215.01 L474.48 215.09 L475.17 215.18 L475.86 215.27 L476.55 215.35 L477.24 215.45 L477.93 215.54 L478.62 215.63 L479.31 215.73 L480.00 215.83 L480.69 215.93 L481.37 216.04 L482.06 216.14 L482.75 216.25 L483.43 216.36 L484.12 216.48 L484.80 216.59 L485.49 216.71 L486.17 216.83 L486.86 216.96 L487.54 217.08 L488.23 217.21 L488.91 217.34 L489.59 217.48 L490.28 217.62 L490.96 217.76 L491.64 217.90 L492.32 218.05 L493.00 218.20 L493.68 218.35 L494.36 218.51 L495.04 218.67 L495.72 218.83 L496.40 219.00 L497.08 219.17 L497.75 219.34 L498.43 219.52 L499.11 219.70 L499.78 219.88 L500.46 220.07 L501.13 220.26 L501.81 220.45 L502.48 220.65 L503.16 220.85 L503.83 221.06 L504.50 221.27 L505.18 221.48 L505.85 221.70 L506.52 221.92 L507.19 222.15 L507.86 222.38 L508.53 222.62 L509.20 222.86 L509.87 223.10 L510.53 223.35 L511.20 223.60" stroke="#d99100"/>
</g>
<g fill="none" stroke-width="2.2" stroke-linecap="round">
<line x1="81.6" y1="209.10" x2="117" y2="209.10" stroke="#666666"/>
<line x1="81.6" y1="226.95" x2="117" y2="226.95" stroke="#ff3333"/>
<line x1="81.6" y1="244.80" x2="117" y2="244.80" stroke="#0066dd"/>
<line x1="81.6" y1="262.65" x2="117" y2="262.65" stroke="#00a65a"/>
<line x1="81.6" y1="280.50" x2="117" y2="280.50" stroke="#b366dd"/>
<line x1="81.6" y1="298.35" x2="117" y2="298.35" stroke="#d99100"/>
</g>
<text x="45.13" y="327.70" font-size="14.50" textLength="8.68" lengthAdjust="spacingAndGlyphs">0</text>
<text x="36.46" y="269.94" font-size="14.50" textLength="17.35" lengthAdjust="spacingAndGlyphs">20</text>
<text x="36.46" y="212.18" font-size="14.50" textLength="17.35" lengthAdjust="spacingAndGlyphs">40</text>
<text x="36.46" y="154.42" font-size="14.50" textLength="17.35" lengthAdjust="spacingAndGlyphs">60</text>
<text x="36.46" y="96.66" font-size="14.50" textLength="17.35" lengthAdjust="spacingAndGlyphs">80</text>
<text x="27.78" y="38.90" font-size="14.50" textLength="26.03" lengthAdjust="spacingAndGlyphs">100</text>
<text x="98.49" y="343.90" font-size="14.50" textLength="26.03" lengthAdjust="spacingAndGlyphs">100</text>
<text x="165.09" y="343.90" font-size="14.50" textLength="26.03" lengthAdjust="spacingAndGlyphs">200</text>
<text x="231.69" y="343.90" font-size="14.50" textLength="26.03" lengthAdjust="spacingAndGlyphs">300</text>
<text x="298.29" y="343.90" font-size="14.50" textLength="26.03" lengthAdjust="spacingAndGlyphs">400</text>
<text x="364.89" y="343.90" font-size="14.50" textLength="26.03" lengthAdjust="spacingAndGlyphs">500</text>
<text x="431.49" y="343.90" font-size="14.50" textLength="26.03" lengthAdjust="spacingAndGlyphs">600</text>
<text x="498.09" y="343.90" font-size="14.50" textLength="26.03" lengthAdjust="spacingAndGlyphs">700</text>
<text x="121.40" y="213.95" font-size="15.50" textLength="65.40" lengthAdjust="spacingAndGlyphs">Cellulose</text>
<text x="121.40" y="231.80" font-size="15.50" textLength="62.75" lengthAdjust="spacingAndGlyphs">Chitosan</text>
<text x="121.40" y="249.65" font-size="15.50" textLength="106.96" lengthAdjust="spacingAndGlyphs">Alginate Beads</text>
<text x="121.40" y="267.50" font-size="15.50" textLength="44.18" lengthAdjust="spacingAndGlyphs">CeMA</text>
<text x="121.40" y="285.35" font-size="15.50" textLength="35.33" lengthAdjust="spacingAndGlyphs">CMA</text>
<text x="121.40" y="303.20" font-size="15.50" textLength="46.81" lengthAdjust="spacingAndGlyphs">CCMA</text>
<text x="237.82" y="368.80" font-size="16.60" textLength="133.37" lengthAdjust="spacingAndGlyphs">Temperature (°C)</text>
<text transform="translate(20.9 220.67) rotate(-90)" x="0" y="0" font-size="16.3" textLength="113.63" lengthAdjust="spacingAndGlyphs">Weight Loss (%)</text>
</svg>
</body></html>
